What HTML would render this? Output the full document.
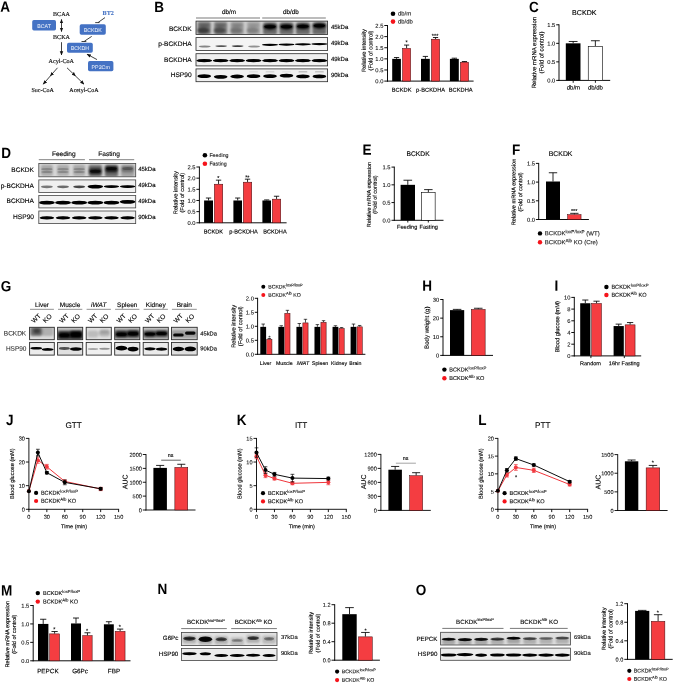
<!DOCTYPE html>
<html lang="en"><head><meta charset="utf-8"><title>Figure</title>
<style>
html,body{margin:0;padding:0;background:#fff;}
body{width:674px;height:685px;overflow:hidden;}
svg{display:block;font-family:"Liberation Sans",Arial,Helvetica,sans-serif;text-rendering:geometricPrecision;}
</style></head><body>
<svg xmlns="http://www.w3.org/2000/svg" width="674" height="685" viewBox="0 0 674 685">
<defs>
<filter id="b1" x="-30%" y="-60%" width="160%" height="220%"><feGaussianBlur stdDeviation="0.7"/></filter>
<filter id="b2" x="-30%" y="-60%" width="160%" height="220%"><feGaussianBlur stdDeviation="1.3"/></filter>
<filter id="b3" x="-40%" y="-80%" width="180%" height="260%"><feGaussianBlur stdDeviation="2.2"/></filter>
<filter id="b0" x="-30%" y="-60%" width="160%" height="220%"><feGaussianBlur stdDeviation="0.45"/></filter>
<filter id="soft" x="-5%" y="-5%" width="110%" height="110%"><feGaussianBlur stdDeviation="0.3"/></filter>
<marker id="ah" viewBox="0 0 10 10" refX="9" refY="5" markerUnits="userSpaceOnUse" markerWidth="4.3" markerHeight="4.4" orient="auto-start-reverse"><path d="M0,1 L10,5 L0,9 z" fill="#111"/></marker>
</defs>
<rect x="0" y="0" width="674" height="685" fill="#fff"/>
<g id="panelA">
<text x="0" y="0" font-size="14.8" font-weight="bold" fill="#000" transform="translate(0.15 11.7) rotate(0.05) scale(0.915 1)">A</text>
<g>
<text x="61.5" y="14.5" font-size="6.1" fill="#000" stroke="#000" stroke-width="0.13" text-anchor="middle" font-family="&quot;Liberation Serif&quot;,&quot;Times New Roman&quot;,serif" dominant-baseline="central">BCAA</text>
<text x="61.5" y="37.9" font-size="6.1" fill="#000" stroke="#000" stroke-width="0.13" text-anchor="middle" font-family="&quot;Liberation Serif&quot;,&quot;Times New Roman&quot;,serif" dominant-baseline="central">BCKA</text>
<text x="61.3" y="62" font-size="6.1" fill="#000" stroke="#000" stroke-width="0.13" text-anchor="middle" font-family="&quot;Liberation Serif&quot;,&quot;Times New Roman&quot;,serif" dominant-baseline="central">Acyl-CoA</text>
<text x="42.7" y="91" font-size="6" fill="#000" stroke="#000" stroke-width="0.13" text-anchor="middle" font-family="&quot;Liberation Serif&quot;,&quot;Times New Roman&quot;,serif" dominant-baseline="central">Suc-CoA</text>
<text x="84" y="91" font-size="6" fill="#000" stroke="#000" stroke-width="0.13" text-anchor="middle" font-family="&quot;Liberation Serif&quot;,&quot;Times New Roman&quot;,serif" dominant-baseline="central">Acetyl-CoA</text>
</g>
<text x="108.2" y="14.3" font-size="6.1" fill="#4472C4" stroke="#4472C4" stroke-width="0.13" text-anchor="middle" font-weight="bold" font-family="&quot;Liberation Serif&quot;,&quot;Times New Roman&quot;,serif" dominant-baseline="central">BT2</text>
<rect x="32.2" y="20" width="23.8" height="10.4" fill="#4472C4" rx="1.7"/>
<text x="44.1" y="26.7" font-size="5.3" fill="#e4ebf8" stroke="#e4ebf8" stroke-width="0.05" text-anchor="middle" dominant-baseline="central">BCAT</text>
<rect x="79.7" y="24.2" width="26.1" height="10.6" fill="#4472C4" rx="1.7"/>
<text x="92.75" y="31" font-size="5.3" fill="#e4ebf8" stroke="#e4ebf8" stroke-width="0.05" text-anchor="middle" dominant-baseline="central">BCKDK</text>
<rect x="67" y="42.8" width="25.8" height="10" fill="#4472C4" rx="1.7"/>
<text x="79.9" y="49.3" font-size="5.3" fill="#e4ebf8" stroke="#e4ebf8" stroke-width="0.05" text-anchor="middle" dominant-baseline="central">BCKDH</text>
<rect x="88" y="61" width="25.4" height="10.3" fill="#4472C4" rx="1.7"/>
<text x="100.7" y="67.65" font-size="5.3" fill="#e4ebf8" stroke="#e4ebf8" stroke-width="0.05" text-anchor="middle" dominant-baseline="central">PP2Cm</text>
<g stroke="#111" stroke-width="0.8" fill="none">
<line x1="61.5" y1="19.4" x2="61.5" y2="31.6" marker-start="url(#ah)" marker-end="url(#ah)"/>
<line x1="61.5" y1="42.2" x2="61.5" y2="55" marker-end="url(#ah)"/>
<line x1="57.5" y1="67.8" x2="50.3" y2="76" marker-end="url(#ah)"/>
<line x1="50.3" y1="76" x2="43.2" y2="84.2" marker-end="url(#ah)"/>
<line x1="67" y1="67.8" x2="75.5" y2="76" marker-end="url(#ah)"/>
<line x1="75.5" y1="76" x2="84" y2="84.2" marker-end="url(#ah)"/>
<line x1="97" y1="59.6" x2="87" y2="54.2" marker-end="url(#ah)"/>
<path d="M105.0,17.6 L98.2,22.4 M95.2,22.6 L99.6,22.6"/>
<path d="M91.7,36.4 L84.4,41.2 M81.5,41.5 L86.3,41.5"/>
</g>
</g>
<g id="panelB">
<text x="0" y="0" font-size="14.8" font-weight="bold" fill="#000" transform="translate(154.25 11.9) rotate(0.05) scale(0.915 1)">B</text>
<line x1="196" y1="17.9" x2="260" y2="17.9" stroke="#bcbcbc" stroke-width="2"/>
<line x1="262.2" y1="17.9" x2="325.8" y2="17.9" stroke="#bcbcbc" stroke-width="2"/>
<text x="229" y="12" font-size="6.3" fill="#000" stroke="#000" stroke-width="0.13" text-anchor="middle" dominant-baseline="central">db/m</text>
<text x="291" y="12" font-size="6.3" fill="#000" stroke="#000" stroke-width="0.13" text-anchor="middle" dominant-baseline="central">db/db</text>
<text x="191.6" y="29.35" font-size="6.6" fill="#000" stroke="#000" stroke-width="0.13" text-anchor="end" dominant-baseline="central">BCKDK</text>
<text x="330.9" y="27.95" font-size="6" fill="#000" stroke="#000" stroke-width="0.13" dominant-baseline="central">45kDa</text>
<rect x="196" y="21.1" width="131.6" height="13.3" fill="#cfcfcf"/>
<clipPath id="cB0"><rect x="196" y="21.1" width="131.6" height="13.3"/></clipPath>
<g clip-path="url(#cB0)">
<rect x="197.62" y="21.75" width="13.2" height="13" rx="2" fill="#000" opacity="0.42" filter="url(#b2)"/>
<ellipse cx="203.22" cy="30.35" rx="6" ry="3" fill="#000" opacity="0.5" filter="url(#b2)"/>
<ellipse cx="204.22" cy="25.25" rx="5" ry="1.5" fill="#000" opacity="0.25" filter="url(#b2)"/>
<rect x="214.08" y="21.75" width="13.2" height="13" rx="2" fill="#000" opacity="0.38" filter="url(#b2)"/>
<ellipse cx="219.68" cy="30.35" rx="6" ry="3" fill="#000" opacity="0.42" filter="url(#b2)"/>
<ellipse cx="220.68" cy="25.25" rx="5" ry="1.5" fill="#000" opacity="0.28" filter="url(#b2)"/>
<rect x="230.53" y="21.75" width="13.2" height="13" rx="2" fill="#000" opacity="0.26" filter="url(#b2)"/>
<ellipse cx="236.12" cy="30.35" rx="6" ry="3" fill="#000" opacity="0.25" filter="url(#b2)"/>
<ellipse cx="237.12" cy="25.25" rx="5" ry="1.5" fill="#000" opacity="0.18" filter="url(#b2)"/>
<rect x="246.98" y="21.75" width="13.2" height="13" rx="2" fill="#000" opacity="0.2" filter="url(#b2)"/>
<ellipse cx="252.58" cy="30.35" rx="6" ry="3" fill="#000" opacity="0.22" filter="url(#b2)"/>
<ellipse cx="253.58" cy="25.25" rx="5" ry="1.5" fill="#000" opacity="0.12" filter="url(#b2)"/>
<rect x="263.02" y="22.55" width="14" height="12" rx="2" fill="#000" opacity="0.5" filter="url(#b2)"/>
<ellipse cx="270.02" cy="26.85" rx="6.6" ry="2.8" fill="#000" opacity="0.9" filter="url(#b2)"/>
<ellipse cx="270.02" cy="26.75" rx="5.75" ry="1.6" fill="#000" opacity="0.9" filter="url(#b1)"/>
<rect x="279.48" y="22.55" width="14" height="12" rx="2" fill="#000" opacity="0.5" filter="url(#b2)"/>
<ellipse cx="286.48" cy="26.85" rx="6.6" ry="2.8" fill="#000" opacity="0.9" filter="url(#b2)"/>
<ellipse cx="286.48" cy="26.75" rx="5.75" ry="1.6" fill="#000" opacity="0.9" filter="url(#b1)"/>
<rect x="295.93" y="22.55" width="14" height="12" rx="2" fill="#000" opacity="0.5" filter="url(#b2)"/>
<ellipse cx="302.93" cy="26.55" rx="6.6" ry="2.8" fill="#000" opacity="0.9" filter="url(#b2)"/>
<ellipse cx="302.93" cy="26.45" rx="5.75" ry="1.6" fill="#000" opacity="0.9" filter="url(#b1)"/>
<rect x="312.38" y="22.55" width="14" height="12" rx="2" fill="#000" opacity="0.5" filter="url(#b2)"/>
<ellipse cx="319.38" cy="25.85" rx="6.6" ry="2.8" fill="#000" opacity="0.9" filter="url(#b2)"/>
<ellipse cx="319.38" cy="25.75" rx="5.75" ry="1.6" fill="#000" opacity="0.9" filter="url(#b1)"/>
</g>
<rect x="196" y="21.1" width="131.6" height="13.3" fill="none" stroke="#2a2a2a" stroke-width="0.8"/>
<text x="191.6" y="44.2" font-size="6.6" fill="#000" stroke="#000" stroke-width="0.13" text-anchor="end" dominant-baseline="central">p-BCKDHA</text>
<text x="330.9" y="44.2" font-size="6" fill="#000" stroke="#000" stroke-width="0.13" dominant-baseline="central">49kDa</text>
<rect x="196" y="37.6" width="131.6" height="12.8" fill="#f4f4f4"/>
<clipPath id="cB1"><rect x="196" y="37.6" width="131.6" height="12.8"/></clipPath>
<g clip-path="url(#cB1)">
<ellipse cx="204.72" cy="46.5" rx="6" ry="0.95" fill="#000" opacity="0.45" filter="url(#b1)"/>
<ellipse cx="221.18" cy="46.1" rx="6" ry="0.95" fill="#000" opacity="0.65" filter="url(#b1)"/>
<ellipse cx="237.62" cy="46.1" rx="6" ry="0.95" fill="#000" opacity="0.75" filter="url(#b1)"/>
<ellipse cx="254.08" cy="46.5" rx="6" ry="0.95" fill="#000" opacity="0.4" filter="url(#b1)"/>
<ellipse cx="270.02" cy="44.8" rx="8" ry="1.15" fill="#000" opacity="1" filter="url(#b1)"/>
<ellipse cx="270.02" cy="44.8" rx="6" ry="0.6" fill="#000" opacity="0.5" filter="url(#b0)"/>
<ellipse cx="286.48" cy="44.55" rx="8" ry="1.15" fill="#000" opacity="1" filter="url(#b1)"/>
<ellipse cx="286.48" cy="44.55" rx="6" ry="0.6" fill="#000" opacity="0.5" filter="url(#b0)"/>
<ellipse cx="302.93" cy="44.3" rx="8" ry="1.15" fill="#000" opacity="1" filter="url(#b1)"/>
<ellipse cx="302.93" cy="44.3" rx="6" ry="0.6" fill="#000" opacity="0.5" filter="url(#b0)"/>
<ellipse cx="319.38" cy="44.05" rx="8" ry="1.15" fill="#000" opacity="1" filter="url(#b1)"/>
<ellipse cx="319.38" cy="44.05" rx="6" ry="0.6" fill="#000" opacity="0.5" filter="url(#b0)"/>
</g>
<rect x="196" y="37.6" width="131.6" height="12.8" fill="none" stroke="#2a2a2a" stroke-width="0.8"/>
<text x="191.6" y="60" font-size="6.6" fill="#000" stroke="#000" stroke-width="0.13" text-anchor="end" dominant-baseline="central">BCKDHA</text>
<text x="330.9" y="60" font-size="6" fill="#000" stroke="#000" stroke-width="0.13" dominant-baseline="central">49kDa</text>
<rect x="196" y="53.7" width="131.6" height="12.2" fill="#efefef"/>
<clipPath id="cB2"><rect x="196" y="53.7" width="131.6" height="12.2"/></clipPath>
<g clip-path="url(#cB2)">
<ellipse cx="204.22" cy="60.6" rx="7.9" ry="1.65" fill="#000" opacity="1" filter="url(#b1)"/>
<rect x="197.97" y="59.6" width="12.5" height="2" rx="1" fill="#000" opacity="1" filter="url(#b0)"/>
<ellipse cx="220.68" cy="60.6" rx="7.9" ry="1.65" fill="#000" opacity="1" filter="url(#b1)"/>
<rect x="214.43" y="59.6" width="12.5" height="2" rx="1" fill="#000" opacity="1" filter="url(#b0)"/>
<ellipse cx="237.12" cy="60.6" rx="7.9" ry="1.65" fill="#000" opacity="1" filter="url(#b1)"/>
<rect x="230.88" y="59.6" width="12.5" height="2" rx="1" fill="#000" opacity="1" filter="url(#b0)"/>
<ellipse cx="253.58" cy="60.6" rx="7.9" ry="1.65" fill="#000" opacity="1" filter="url(#b1)"/>
<rect x="247.33" y="59.6" width="12.5" height="2" rx="1" fill="#000" opacity="1" filter="url(#b0)"/>
<ellipse cx="270.02" cy="60.6" rx="7.9" ry="1.65" fill="#000" opacity="1" filter="url(#b1)"/>
<rect x="263.77" y="59.6" width="12.5" height="2" rx="1" fill="#000" opacity="1" filter="url(#b0)"/>
<ellipse cx="286.48" cy="60.6" rx="7.9" ry="1.65" fill="#000" opacity="1" filter="url(#b1)"/>
<rect x="280.23" y="59.6" width="12.5" height="2" rx="1" fill="#000" opacity="1" filter="url(#b0)"/>
<ellipse cx="302.93" cy="60.6" rx="7.9" ry="1.65" fill="#000" opacity="1" filter="url(#b1)"/>
<rect x="296.68" y="59.6" width="12.5" height="2" rx="1" fill="#000" opacity="1" filter="url(#b0)"/>
<ellipse cx="319.38" cy="60.6" rx="7.9" ry="1.65" fill="#000" opacity="1" filter="url(#b1)"/>
<rect x="313.12" y="59.6" width="12.5" height="2" rx="1" fill="#000" opacity="1" filter="url(#b0)"/>
</g>
<rect x="196" y="53.7" width="131.6" height="12.2" fill="none" stroke="#2a2a2a" stroke-width="0.8"/>
<text x="191.6" y="75.5" font-size="6.6" fill="#000" stroke="#000" stroke-width="0.13" text-anchor="end" dominant-baseline="central">HSP90</text>
<text x="330.9" y="75.5" font-size="6" fill="#000" stroke="#000" stroke-width="0.13" dominant-baseline="central">90kDa</text>
<rect x="196" y="68.9" width="131.6" height="12.8" fill="#f0f0f0"/>
<clipPath id="cB3"><rect x="196" y="68.9" width="131.6" height="12.8"/></clipPath>
<g clip-path="url(#cB3)">
<ellipse cx="204.22" cy="76.2" rx="6.8" ry="1.9" fill="#000" opacity="1" filter="url(#b1)"/>
<rect x="198.97" y="75.05" width="10.5" height="2.3" rx="1.15" fill="#000" opacity="1" filter="url(#b0)"/>
<ellipse cx="220.68" cy="76.8" rx="6.8" ry="1.9" fill="#000" opacity="1" filter="url(#b1)"/>
<rect x="215.43" y="75.65" width="10.5" height="2.3" rx="1.15" fill="#000" opacity="1" filter="url(#b0)"/>
<ellipse cx="237.12" cy="76.5" rx="6.8" ry="1.9" fill="#000" opacity="1" filter="url(#b1)"/>
<rect x="231.88" y="75.35" width="10.5" height="2.3" rx="1.15" fill="#000" opacity="1" filter="url(#b0)"/>
<ellipse cx="253.58" cy="76.2" rx="6.8" ry="1.9" fill="#000" opacity="1" filter="url(#b1)"/>
<rect x="248.33" y="75.05" width="10.5" height="2.3" rx="1.15" fill="#000" opacity="1" filter="url(#b0)"/>
<rect x="249.08" y="71.45" width="9" height="0.9" rx="0.45" fill="#000" opacity="0.12" filter="url(#b1)"/>
<ellipse cx="270.02" cy="76.2" rx="6.8" ry="1.9" fill="#000" opacity="1" filter="url(#b1)"/>
<rect x="264.77" y="75.05" width="10.5" height="2.3" rx="1.15" fill="#000" opacity="1" filter="url(#b0)"/>
<rect x="265.52" y="71.45" width="9" height="0.9" rx="0.45" fill="#000" opacity="0.2" filter="url(#b1)"/>
<ellipse cx="286.48" cy="75.7" rx="6.8" ry="1.9" fill="#000" opacity="1" filter="url(#b1)"/>
<rect x="281.23" y="74.55" width="10.5" height="2.3" rx="1.15" fill="#000" opacity="1" filter="url(#b0)"/>
<rect x="281.98" y="71.45" width="9" height="0.9" rx="0.45" fill="#000" opacity="0.1" filter="url(#b1)"/>
<ellipse cx="302.93" cy="76.4" rx="6.8" ry="1.9" fill="#000" opacity="1" filter="url(#b1)"/>
<rect x="297.68" y="75.25" width="10.5" height="2.3" rx="1.15" fill="#000" opacity="1" filter="url(#b0)"/>
<rect x="298.43" y="71.45" width="9" height="0.9" rx="0.45" fill="#000" opacity="0.4" filter="url(#b1)"/>
<ellipse cx="319.38" cy="76.4" rx="6.8" ry="1.9" fill="#000" opacity="1" filter="url(#b1)"/>
<rect x="314.12" y="75.25" width="10.5" height="2.3" rx="1.15" fill="#000" opacity="1" filter="url(#b0)"/>
<rect x="314.88" y="71.45" width="9" height="0.9" rx="0.45" fill="#000" opacity="0.35" filter="url(#b1)"/>
</g>
<rect x="196" y="68.9" width="131.6" height="12.8" fill="none" stroke="#2a2a2a" stroke-width="0.8"/>
<line x1="387.5" y1="25.02" x2="387.5" y2="81.57" stroke="#000" stroke-width="0.95"/>
<line x1="387.02" y1="81.1" x2="473.6" y2="81.1" stroke="#000" stroke-width="0.95"/>
<line x1="384.3" y1="81.1" x2="387.5" y2="81.1" stroke="#000" stroke-width="0.95"/>
<text x="383.4" y="81.25" font-size="5.8" fill="#000" stroke="#000" stroke-width="0.06" text-anchor="end" dy="2.08" transform="rotate(0.05 383.4 81.25)">0.0</text>
<line x1="384.3" y1="69.98" x2="387.5" y2="69.98" stroke="#000" stroke-width="0.95"/>
<text x="383.4" y="70.13" font-size="5.8" fill="#000" stroke="#000" stroke-width="0.06" text-anchor="end" dy="2.08" transform="rotate(0.05 383.4 70.13)">0.5</text>
<line x1="384.3" y1="58.86" x2="387.5" y2="58.86" stroke="#000" stroke-width="0.95"/>
<text x="383.4" y="59.01" font-size="5.8" fill="#000" stroke="#000" stroke-width="0.06" text-anchor="end" dy="2.08" transform="rotate(0.05 383.4 59.01)">1.0</text>
<line x1="384.3" y1="47.74" x2="387.5" y2="47.74" stroke="#000" stroke-width="0.95"/>
<text x="383.4" y="47.89" font-size="5.8" fill="#000" stroke="#000" stroke-width="0.06" text-anchor="end" dy="2.08" transform="rotate(0.05 383.4 47.89)">1.5</text>
<line x1="384.3" y1="36.62" x2="387.5" y2="36.62" stroke="#000" stroke-width="0.95"/>
<text x="383.4" y="36.77" font-size="5.8" fill="#000" stroke="#000" stroke-width="0.06" text-anchor="end" dy="2.08" transform="rotate(0.05 383.4 36.77)">2.0</text>
<line x1="384.3" y1="25.5" x2="387.5" y2="25.5" stroke="#000" stroke-width="0.95"/>
<text x="383.4" y="25.65" font-size="5.8" fill="#000" stroke="#000" stroke-width="0.06" text-anchor="end" dy="2.08" transform="rotate(0.05 383.4 25.65)">2.5</text>
<line x1="396.55" y1="57.53" x2="396.55" y2="58.86" stroke="#000" stroke-width="0.85"/>
<line x1="393.94" y1="57.53" x2="399.16" y2="57.53" stroke="#000" stroke-width="0.85"/>
<rect x="392.2" y="58.86" width="8.7" height="22.24" fill="#000"/>
<line x1="406.6" y1="45.07" x2="406.6" y2="48.18" stroke="#000" stroke-width="0.85"/>
<line x1="404.02" y1="45.07" x2="409.18" y2="45.07" stroke="#000" stroke-width="0.85"/>
<rect x="402.55" y="48.43" width="8.1" height="32.67" fill="#F43D41" stroke="#3a0508" stroke-width="0.5"/>
<line x1="425.4" y1="56.41" x2="425.4" y2="58.86" stroke="#000" stroke-width="0.85"/>
<line x1="422.76" y1="56.41" x2="428.04" y2="56.41" stroke="#000" stroke-width="0.85"/>
<rect x="421" y="58.86" width="8.8" height="22.24" fill="#000"/>
<line x1="435.55" y1="37.51" x2="435.55" y2="38.96" stroke="#000" stroke-width="0.85"/>
<line x1="432.94" y1="37.51" x2="438.16" y2="37.51" stroke="#000" stroke-width="0.85"/>
<rect x="431.45" y="39.21" width="8.2" height="41.89" fill="#F43D41" stroke="#3a0508" stroke-width="0.5"/>
<line x1="454.35" y1="58.19" x2="454.35" y2="58.86" stroke="#000" stroke-width="0.85"/>
<line x1="451.68" y1="58.19" x2="457.02" y2="58.19" stroke="#000" stroke-width="0.85"/>
<rect x="449.9" y="58.86" width="8.9" height="22.24" fill="#000"/>
<line x1="464.45" y1="61.53" x2="464.45" y2="61.97" stroke="#000" stroke-width="0.85"/>
<line x1="461.84" y1="61.53" x2="467.06" y2="61.53" stroke="#000" stroke-width="0.85"/>
<rect x="460.35" y="62.22" width="8.2" height="18.88" fill="#F43D41" stroke="#3a0508" stroke-width="0.5"/>
<text x="406.5" y="42.16" font-size="5.5" fill="#000" stroke="#000" stroke-width="0.1" text-anchor="middle" dy="1.97" transform="rotate(0.05 406.5 42.16)">*</text>
<text x="435.1" y="35.45" font-size="5.5" fill="#000" stroke="#000" stroke-width="0.1" text-anchor="middle" dy="1.97" transform="rotate(0.05 435.1 35.45)">***</text>
<circle cx="393" cy="13.7" r="2.3" fill="#000"/>
<text x="398" y="13.5" font-size="5.9" fill="#111" stroke="#111" stroke-width="0.1" dy="2.11" transform="rotate(0.05 398 13.5)">db/m</text>
<circle cx="393" cy="21.6" r="2.3" fill="#F5141B"/>
<text x="398" y="21.4" font-size="5.9" fill="#111" stroke="#111" stroke-width="0.1" dy="2.11" transform="rotate(0.05 398 21.4)">db/db</text>
<text x="363.7" y="50.6" font-size="5.7" fill="#000" stroke="#000" stroke-width="0.13" text-anchor="middle" dy="2.04" transform="rotate(-89.95 363.7 50.6)">Relative intensity</text>
<text x="370.4" y="50.6" font-size="5.7" fill="#000" stroke="#000" stroke-width="0.13" text-anchor="middle" dy="2.04" transform="rotate(-89.95 370.4 50.6)">(Fold of control)</text>
<text x="401.7" y="89.75" font-size="5.75" fill="#000" stroke="#000" stroke-width="0.13" text-anchor="middle" dy="2.06" transform="rotate(0.05 401.7 89.75)">BCKDK</text>
<text x="430.6" y="89.75" font-size="5.75" fill="#000" stroke="#000" stroke-width="0.13" text-anchor="middle" dy="2.06" transform="rotate(0.05 430.6 89.75)">p-BCKDHA</text>
<text x="460.7" y="89.75" font-size="5.75" fill="#000" stroke="#000" stroke-width="0.13" text-anchor="middle" dy="2.06" transform="rotate(0.05 460.7 89.75)">BCKDHA</text>
</g>
<g id="panelC">
<text x="0" y="0" font-size="14.8" font-weight="bold" fill="#000" transform="translate(528.95 12) rotate(0.05) scale(0.915 1)">C</text>
<text x="584.3" y="12.6" font-size="7.1" fill="#000" stroke="#000" stroke-width="0.13" text-anchor="middle" dominant-baseline="central">BCKDK</text>
<line x1="559" y1="24.32" x2="559" y2="80.88" stroke="#000" stroke-width="0.95"/>
<line x1="558.52" y1="80.4" x2="610.2" y2="80.4" stroke="#000" stroke-width="0.95"/>
<line x1="556.2" y1="80.4" x2="559" y2="80.4" stroke="#000" stroke-width="0.95"/>
<text x="555.3" y="80.55" font-size="5.8" fill="#000" stroke="#000" stroke-width="0.06" text-anchor="end" dy="2.08" transform="rotate(0.05 555.3 80.55)">0.0</text>
<line x1="556.2" y1="61.87" x2="559" y2="61.87" stroke="#000" stroke-width="0.95"/>
<text x="555.3" y="62.02" font-size="5.8" fill="#000" stroke="#000" stroke-width="0.06" text-anchor="end" dy="2.08" transform="rotate(0.05 555.3 62.02)">0.5</text>
<line x1="556.2" y1="43.33" x2="559" y2="43.33" stroke="#000" stroke-width="0.95"/>
<text x="555.3" y="43.48" font-size="5.8" fill="#000" stroke="#000" stroke-width="0.06" text-anchor="end" dy="2.08" transform="rotate(0.05 555.3 43.48)">1.0</text>
<line x1="556.2" y1="24.8" x2="559" y2="24.8" stroke="#000" stroke-width="0.95"/>
<text x="555.3" y="24.95" font-size="5.8" fill="#000" stroke="#000" stroke-width="0.06" text-anchor="end" dy="2.08" transform="rotate(0.05 555.3 24.95)">1.5</text>
<line x1="573.15" y1="41.48" x2="573.15" y2="43.33" stroke="#000" stroke-width="0.85"/>
<line x1="568.74" y1="41.48" x2="577.56" y2="41.48" stroke="#000" stroke-width="0.85"/>
<rect x="565.8" y="43.33" width="14.7" height="37.07" fill="#000"/>
<line x1="595.35" y1="40.74" x2="595.35" y2="46.11" stroke="#000" stroke-width="0.85"/>
<line x1="590.94" y1="40.74" x2="599.76" y2="40.74" stroke="#000" stroke-width="0.85"/>
<rect x="588.25" y="46.36" width="14.2" height="34.04" fill="#fff" stroke="#000" stroke-width="0.6"/>
<line x1="573.2" y1="80.4" x2="573.2" y2="82.8" stroke="#000" stroke-width="0.9"/>
<line x1="595.4" y1="80.4" x2="595.4" y2="82.8" stroke="#000" stroke-width="0.9"/>
<text x="573.4" y="87.4" font-size="6" fill="#000" stroke="#000" stroke-width="0.13" text-anchor="middle" dy="2.15" transform="rotate(0.05 573.4 87.4)">db/m</text>
<text x="595.4" y="87.4" font-size="6" fill="#000" stroke="#000" stroke-width="0.13" text-anchor="middle" dy="2.15" transform="rotate(0.05 595.4 87.4)">db/db</text>
<text x="534" y="52.6" font-size="6" fill="#000" stroke="#000" stroke-width="0.13" text-anchor="middle" dy="2.15" transform="rotate(-89.95 534 52.6)">Relative mRNA expression</text>
<text x="541.3" y="52.6" font-size="6" fill="#000" stroke="#000" stroke-width="0.13" text-anchor="middle" dy="2.15" transform="rotate(-89.95 541.3 52.6)">(Fold of control)</text>
</g>
<g id="panelD">
<text x="0" y="0" font-size="14.8" font-weight="bold" fill="#000" transform="translate(1.25 158) rotate(0.05) scale(0.915 1)">D</text>
<line x1="38.8" y1="159.65" x2="84.9" y2="159.65" stroke="#999" stroke-width="1.1"/>
<line x1="89" y1="159.65" x2="134.2" y2="159.65" stroke="#999" stroke-width="1.1"/>
<text x="63.8" y="154.5" font-size="6.6" fill="#000" stroke="#000" stroke-width="0.13" text-anchor="middle" dominant-baseline="central">Feeding</text>
<text x="109" y="154.5" font-size="6.6" fill="#000" stroke="#000" stroke-width="0.13" text-anchor="middle" dominant-baseline="central">Fasting</text>
<text x="34" y="170.35" font-size="6.6" fill="#000" stroke="#000" stroke-width="0.13" text-anchor="end" dominant-baseline="central">BCKDK</text>
<text x="138.2" y="170.35" font-size="6" fill="#000" stroke="#000" stroke-width="0.13" dominant-baseline="central">45kDa</text>
<rect x="38.8" y="163.5" width="96.9" height="13.3" fill="#d8d8d8"/>
<clipPath id="cD0"><rect x="38.8" y="163.5" width="96.9" height="13.3"/></clipPath>
<g clip-path="url(#cD0)">
<rect x="40.88" y="164.65" width="12" height="11" rx="2" fill="#000" opacity="0.22" filter="url(#b2)"/>
<ellipse cx="46.88" cy="169.15" rx="5.75" ry="1.1" fill="#000" opacity="0.2" filter="url(#b1)"/>
<ellipse cx="46.88" cy="171.95" rx="5.75" ry="1.1" fill="#000" opacity="0.2" filter="url(#b1)"/>
<rect x="57.02" y="164.65" width="12" height="11" rx="2" fill="#000" opacity="0.2" filter="url(#b2)"/>
<ellipse cx="63.02" cy="169.15" rx="5.75" ry="1.1" fill="#000" opacity="0.2" filter="url(#b1)"/>
<ellipse cx="63.02" cy="171.95" rx="5.75" ry="1.1" fill="#000" opacity="0.2" filter="url(#b1)"/>
<rect x="73.17" y="164.65" width="12" height="11" rx="2" fill="#000" opacity="0.22" filter="url(#b2)"/>
<ellipse cx="79.17" cy="169.15" rx="5.75" ry="1.1" fill="#000" opacity="0.2" filter="url(#b1)"/>
<ellipse cx="79.17" cy="171.95" rx="5.75" ry="1.1" fill="#000" opacity="0.2" filter="url(#b1)"/>
<rect x="88.57" y="164.65" width="13.5" height="12" rx="2" fill="#000" opacity="0.48" filter="url(#b2)"/>
<rect x="89.07" y="168.15" width="12.5" height="6" rx="3" fill="#000" opacity="0.72" filter="url(#b2)"/>
<ellipse cx="95.32" cy="171.15" rx="5.25" ry="1.5" fill="#000" opacity="0.59" filter="url(#b1)"/>
<rect x="104.72" y="164.65" width="13.5" height="12" rx="2" fill="#000" opacity="0.51" filter="url(#b2)"/>
<rect x="105.22" y="166.15" width="12.5" height="6" rx="3" fill="#000" opacity="0.77" filter="url(#b2)"/>
<ellipse cx="111.47" cy="168.55" rx="5.25" ry="1.5" fill="#000" opacity="0.63" filter="url(#b1)"/>
<rect x="120.87" y="164.65" width="13.5" height="12" rx="2" fill="#000" opacity="0.26" filter="url(#b2)"/>
<rect x="121.37" y="166.15" width="12.5" height="6" rx="3" fill="#000" opacity="0.3" filter="url(#b2)"/>
<ellipse cx="127.62" cy="168.55" rx="5.25" ry="1.5" fill="#000" opacity="0.24" filter="url(#b1)"/>
</g>
<rect x="38.8" y="163.5" width="96.9" height="13.3" fill="none" stroke="#444" stroke-width="0.8"/>
<text x="34" y="186.4" font-size="6.6" fill="#000" stroke="#000" stroke-width="0.13" text-anchor="end" dominant-baseline="central">p-BCKDHA</text>
<text x="138.2" y="186.4" font-size="6" fill="#000" stroke="#000" stroke-width="0.13" dominant-baseline="central">49kDa</text>
<rect x="38.8" y="179.9" width="96.9" height="12.6" fill="#f0f0f0"/>
<clipPath id="cD1"><rect x="38.8" y="179.9" width="96.9" height="12.6"/></clipPath>
<g clip-path="url(#cD1)">
<ellipse cx="46.88" cy="186.8" rx="6" ry="1.4" fill="#000" opacity="0.5" filter="url(#b1)"/>
<ellipse cx="63.02" cy="186.8" rx="6" ry="1.4" fill="#000" opacity="0.55" filter="url(#b1)"/>
<ellipse cx="79.17" cy="186.8" rx="6" ry="1.4" fill="#000" opacity="0.7" filter="url(#b1)"/>
<ellipse cx="95.32" cy="186.6" rx="7.75" ry="1.9" fill="#000" opacity="1" filter="url(#b1)"/>
<ellipse cx="95.32" cy="186.6" rx="6.25" ry="1.14" fill="#000" opacity="0.9" filter="url(#b0)"/>
<ellipse cx="111.47" cy="186.6" rx="7.75" ry="1.4" fill="#000" opacity="1" filter="url(#b1)"/>
<ellipse cx="111.47" cy="186.6" rx="6.25" ry="0.84" fill="#000" opacity="0.9" filter="url(#b0)"/>
<ellipse cx="127.62" cy="186.6" rx="7.75" ry="1.4" fill="#000" opacity="1" filter="url(#b1)"/>
<ellipse cx="127.62" cy="186.6" rx="6.25" ry="0.84" fill="#000" opacity="0.9" filter="url(#b0)"/>
</g>
<rect x="38.8" y="179.9" width="96.9" height="12.6" fill="none" stroke="#444" stroke-width="0.8"/>
<text x="34" y="201.85" font-size="6.6" fill="#000" stroke="#000" stroke-width="0.13" text-anchor="end" dominant-baseline="central">BCKDHA</text>
<text x="138.2" y="201.85" font-size="6" fill="#000" stroke="#000" stroke-width="0.13" dominant-baseline="central">49kDa</text>
<rect x="38.8" y="195.4" width="96.9" height="12.5" fill="#f2f2f2"/>
<clipPath id="cD2"><rect x="38.8" y="195.4" width="96.9" height="12.5"/></clipPath>
<g clip-path="url(#cD2)">
<ellipse cx="46.88" cy="202.65" rx="7.9" ry="1.9" fill="#000" opacity="1" filter="url(#b1)"/>
<rect x="40.62" y="201.4" width="12.5" height="2.5" rx="1.25" fill="#000" opacity="1" filter="url(#b0)"/>
<ellipse cx="63.02" cy="202.65" rx="7.9" ry="1.9" fill="#000" opacity="1" filter="url(#b1)"/>
<rect x="56.77" y="201.4" width="12.5" height="2.5" rx="1.25" fill="#000" opacity="1" filter="url(#b0)"/>
<ellipse cx="79.17" cy="202.65" rx="7.9" ry="1.9" fill="#000" opacity="1" filter="url(#b1)"/>
<rect x="72.92" y="201.4" width="12.5" height="2.5" rx="1.25" fill="#000" opacity="1" filter="url(#b0)"/>
<ellipse cx="95.32" cy="202.65" rx="7.9" ry="1.9" fill="#000" opacity="1" filter="url(#b1)"/>
<rect x="89.07" y="201.4" width="12.5" height="2.5" rx="1.25" fill="#000" opacity="1" filter="url(#b0)"/>
<ellipse cx="111.47" cy="202.65" rx="7.9" ry="1.9" fill="#000" opacity="1" filter="url(#b1)"/>
<rect x="105.22" y="201.4" width="12.5" height="2.5" rx="1.25" fill="#000" opacity="1" filter="url(#b0)"/>
<ellipse cx="127.62" cy="201.85" rx="7.9" ry="1.9" fill="#000" opacity="1" filter="url(#b1)"/>
<rect x="121.37" y="200.6" width="12.5" height="2.5" rx="1.25" fill="#000" opacity="1" filter="url(#b0)"/>
</g>
<rect x="38.8" y="195.4" width="96.9" height="12.5" fill="none" stroke="#444" stroke-width="0.8"/>
<text x="34" y="217.5" font-size="6.6" fill="#000" stroke="#000" stroke-width="0.13" text-anchor="end" dominant-baseline="central">HSP90</text>
<text x="138.2" y="217.5" font-size="6" fill="#000" stroke="#000" stroke-width="0.13" dominant-baseline="central">90kDa</text>
<rect x="38.8" y="211" width="96.9" height="12.6" fill="#efefef"/>
<clipPath id="cD3"><rect x="38.8" y="211" width="96.9" height="12.6"/></clipPath>
<g clip-path="url(#cD3)">
<ellipse cx="46.88" cy="217.8" rx="7.25" ry="1.65" fill="#000" opacity="1" filter="url(#b1)"/>
<rect x="41.12" y="216.7" width="11.5" height="2.2" rx="1.1" fill="#000" opacity="1" filter="url(#b0)"/>
<ellipse cx="63.02" cy="217.8" rx="7.25" ry="1.65" fill="#000" opacity="1" filter="url(#b1)"/>
<rect x="57.27" y="216.7" width="11.5" height="2.2" rx="1.1" fill="#000" opacity="1" filter="url(#b0)"/>
<ellipse cx="79.17" cy="217.8" rx="7.25" ry="1.65" fill="#000" opacity="1" filter="url(#b1)"/>
<rect x="73.42" y="216.7" width="11.5" height="2.2" rx="1.1" fill="#000" opacity="1" filter="url(#b0)"/>
<ellipse cx="95.32" cy="217.8" rx="7.25" ry="1.65" fill="#000" opacity="1" filter="url(#b1)"/>
<rect x="89.57" y="216.7" width="11.5" height="2.2" rx="1.1" fill="#000" opacity="1" filter="url(#b0)"/>
<ellipse cx="111.47" cy="217.8" rx="7.25" ry="1.65" fill="#000" opacity="1" filter="url(#b1)"/>
<rect x="105.72" y="216.7" width="11.5" height="2.2" rx="1.1" fill="#000" opacity="1" filter="url(#b0)"/>
<ellipse cx="127.62" cy="217.8" rx="7.25" ry="1.65" fill="#000" opacity="1" filter="url(#b1)"/>
<rect x="121.87" y="216.7" width="11.5" height="2.2" rx="1.1" fill="#000" opacity="1" filter="url(#b0)"/>
</g>
<rect x="38.8" y="211" width="96.9" height="12.6" fill="none" stroke="#444" stroke-width="0.8"/>
<line x1="199.4" y1="166.53" x2="199.4" y2="223.28" stroke="#000" stroke-width="0.95"/>
<line x1="198.93" y1="222.8" x2="286.6" y2="222.8" stroke="#000" stroke-width="0.95"/>
<line x1="196.4" y1="222.8" x2="199.4" y2="222.8" stroke="#000" stroke-width="0.95"/>
<text x="195.5" y="222.95" font-size="5.8" fill="#000" stroke="#000" stroke-width="0.06" text-anchor="end" dy="2.08" transform="rotate(0.05 195.5 222.95)">0.0</text>
<line x1="196.4" y1="211.64" x2="199.4" y2="211.64" stroke="#000" stroke-width="0.95"/>
<text x="195.5" y="211.79" font-size="5.8" fill="#000" stroke="#000" stroke-width="0.06" text-anchor="end" dy="2.08" transform="rotate(0.05 195.5 211.79)">0.5</text>
<line x1="196.4" y1="200.48" x2="199.4" y2="200.48" stroke="#000" stroke-width="0.95"/>
<text x="195.5" y="200.63" font-size="5.8" fill="#000" stroke="#000" stroke-width="0.06" text-anchor="end" dy="2.08" transform="rotate(0.05 195.5 200.63)">1.0</text>
<line x1="196.4" y1="189.32" x2="199.4" y2="189.32" stroke="#000" stroke-width="0.95"/>
<text x="195.5" y="189.47" font-size="5.8" fill="#000" stroke="#000" stroke-width="0.06" text-anchor="end" dy="2.08" transform="rotate(0.05 195.5 189.47)">1.5</text>
<line x1="196.4" y1="178.16" x2="199.4" y2="178.16" stroke="#000" stroke-width="0.95"/>
<text x="195.5" y="178.31" font-size="5.8" fill="#000" stroke="#000" stroke-width="0.06" text-anchor="end" dy="2.08" transform="rotate(0.05 195.5 178.31)">2.0</text>
<line x1="196.4" y1="167" x2="199.4" y2="167" stroke="#000" stroke-width="0.95"/>
<text x="195.5" y="167.15" font-size="5.8" fill="#000" stroke="#000" stroke-width="0.06" text-anchor="end" dy="2.08" transform="rotate(0.05 195.5 167.15)">2.5</text>
<line x1="208.55" y1="198.02" x2="208.55" y2="200.48" stroke="#000" stroke-width="0.85"/>
<line x1="205.88" y1="198.02" x2="211.22" y2="198.02" stroke="#000" stroke-width="0.85"/>
<rect x="204.1" y="200.48" width="8.9" height="22.32" fill="#000"/>
<line x1="218.55" y1="180.17" x2="218.55" y2="183.96" stroke="#000" stroke-width="0.85"/>
<line x1="215.88" y1="180.17" x2="221.22" y2="180.17" stroke="#000" stroke-width="0.85"/>
<rect x="214.35" y="184.21" width="8.4" height="38.59" fill="#F43D41" stroke="#3a0508" stroke-width="0.5"/>
<line x1="237.7" y1="198.02" x2="237.7" y2="200.48" stroke="#000" stroke-width="0.85"/>
<line x1="235.12" y1="198.02" x2="240.28" y2="198.02" stroke="#000" stroke-width="0.85"/>
<rect x="233.4" y="200.48" width="8.6" height="22.32" fill="#000"/>
<line x1="247.55" y1="179.16" x2="247.55" y2="181.95" stroke="#000" stroke-width="0.85"/>
<line x1="244.88" y1="179.16" x2="250.22" y2="179.16" stroke="#000" stroke-width="0.85"/>
<rect x="243.35" y="182.2" width="8.4" height="40.6" fill="#F43D41" stroke="#3a0508" stroke-width="0.5"/>
<line x1="266.7" y1="199.92" x2="266.7" y2="200.48" stroke="#000" stroke-width="0.85"/>
<line x1="264.12" y1="199.92" x2="269.28" y2="199.92" stroke="#000" stroke-width="0.85"/>
<rect x="262.4" y="200.48" width="8.6" height="22.32" fill="#000"/>
<line x1="276.55" y1="196.24" x2="276.55" y2="198.92" stroke="#000" stroke-width="0.85"/>
<line x1="273.88" y1="196.24" x2="279.22" y2="196.24" stroke="#000" stroke-width="0.85"/>
<rect x="272.35" y="199.17" width="8.4" height="23.63" fill="#F43D41" stroke="#3a0508" stroke-width="0.5"/>
<text x="218.3" y="177.85" font-size="5.5" fill="#000" stroke="#000" stroke-width="0.1" text-anchor="middle" dy="1.97" transform="rotate(0.05 218.3 177.85)">*</text>
<text x="247.3" y="177.16" font-size="5.5" fill="#000" stroke="#000" stroke-width="0.1" text-anchor="middle" dy="1.97" transform="rotate(0.05 247.3 177.16)">**</text>
<circle cx="204.9" cy="155.2" r="2.3" fill="#000"/>
<text x="209.4" y="155" font-size="5.3" fill="#111" stroke="#111" stroke-width="0.1" dy="1.9" transform="rotate(0.05 209.4 155)">Feeding</text>
<circle cx="204.9" cy="163.7" r="2.3" fill="#F5141B"/>
<text x="209.4" y="163.5" font-size="5.3" fill="#111" stroke="#111" stroke-width="0.1" dy="1.9" transform="rotate(0.05 209.4 163.5)">Fasting</text>
<text x="175.4" y="192.7" font-size="5.7" fill="#000" stroke="#000" stroke-width="0.13" text-anchor="middle" dy="2.04" transform="rotate(-89.95 175.4 192.7)">Relative intensity</text>
<text x="181.9" y="192.7" font-size="5.7" fill="#000" stroke="#000" stroke-width="0.13" text-anchor="middle" dy="2.04" transform="rotate(-89.95 181.9 192.7)">(Fold of control)</text>
<text x="213.4" y="231.6" font-size="5.65" fill="#000" stroke="#000" stroke-width="0.13" text-anchor="middle" dy="2.02" transform="rotate(0.05 213.4 231.6)">BCKDK</text>
<text x="243.6" y="231.6" font-size="5.65" fill="#000" stroke="#000" stroke-width="0.13" text-anchor="middle" dy="2.02" transform="rotate(0.05 243.6 231.6)">p-BCKDHA</text>
<text x="274.9" y="231.6" font-size="5.65" fill="#000" stroke="#000" stroke-width="0.13" text-anchor="middle" dy="2.02" transform="rotate(0.05 274.9 231.6)">BCKDHA</text>
</g>
<g id="panelE">
<text x="0" y="0" font-size="14.8" font-weight="bold" fill="#000" transform="translate(362.55 154.75) rotate(0.05) scale(0.915 1)">E</text>
<text x="418.1" y="154.7" font-size="6.7" fill="#000" stroke="#000" stroke-width="0.13" text-anchor="middle" dominant-baseline="central">BCKDK</text>
<line x1="394.3" y1="166.62" x2="394.3" y2="220.78" stroke="#000" stroke-width="0.95"/>
<line x1="393.82" y1="220.3" x2="443.5" y2="220.3" stroke="#000" stroke-width="0.95"/>
<line x1="391.5" y1="220.3" x2="394.3" y2="220.3" stroke="#000" stroke-width="0.95"/>
<text x="390.6" y="220.45" font-size="5.8" fill="#000" stroke="#000" stroke-width="0.06" text-anchor="end" dy="2.08" transform="rotate(0.05 390.6 220.45)">0.0</text>
<line x1="391.5" y1="202.57" x2="394.3" y2="202.57" stroke="#000" stroke-width="0.95"/>
<text x="390.6" y="202.72" font-size="5.8" fill="#000" stroke="#000" stroke-width="0.06" text-anchor="end" dy="2.08" transform="rotate(0.05 390.6 202.72)">0.5</text>
<line x1="391.5" y1="184.83" x2="394.3" y2="184.83" stroke="#000" stroke-width="0.95"/>
<text x="390.6" y="184.98" font-size="5.8" fill="#000" stroke="#000" stroke-width="0.06" text-anchor="end" dy="2.08" transform="rotate(0.05 390.6 184.98)">1.0</text>
<line x1="391.5" y1="167.1" x2="394.3" y2="167.1" stroke="#000" stroke-width="0.95"/>
<text x="390.6" y="167.25" font-size="5.8" fill="#000" stroke="#000" stroke-width="0.06" text-anchor="end" dy="2.08" transform="rotate(0.05 390.6 167.25)">1.5</text>
<line x1="407.8" y1="180.22" x2="407.8" y2="184.83" stroke="#000" stroke-width="0.85"/>
<line x1="403.48" y1="180.22" x2="412.12" y2="180.22" stroke="#000" stroke-width="0.85"/>
<rect x="400.6" y="184.83" width="14.4" height="35.47" fill="#000"/>
<line x1="428.35" y1="189.62" x2="428.35" y2="192.28" stroke="#000" stroke-width="0.85"/>
<line x1="424.12" y1="189.62" x2="432.58" y2="189.62" stroke="#000" stroke-width="0.85"/>
<rect x="421.55" y="192.53" width="13.6" height="27.77" fill="#fff" stroke="#000" stroke-width="0.6"/>
<line x1="407.8" y1="220.3" x2="407.8" y2="222.5" stroke="#000" stroke-width="0.9"/>
<line x1="428.3" y1="220.3" x2="428.3" y2="222.5" stroke="#000" stroke-width="0.9"/>
<text x="407.2" y="226.8" font-size="5.6" fill="#000" stroke="#000" stroke-width="0.13" text-anchor="middle" dy="2" transform="rotate(0.05 407.2 226.8)">Feeding</text>
<text x="428.7" y="226.8" font-size="5.6" fill="#000" stroke="#000" stroke-width="0.13" text-anchor="middle" dy="2" transform="rotate(0.05 428.7 226.8)">Fasting</text>
<text x="368.9" y="194.6" font-size="5.5" fill="#000" stroke="#000" stroke-width="0.13" text-anchor="middle" dy="1.97" transform="rotate(-89.95 368.9 194.6)">Relative mRNA expression</text>
<text x="374.9" y="194.6" font-size="5.5" fill="#000" stroke="#000" stroke-width="0.13" text-anchor="middle" dy="1.97" transform="rotate(-89.95 374.9 194.6)">(Fold of control)</text>
</g>
<g id="panelF">
<text x="0" y="0" font-size="14.8" font-weight="bold" fill="#000" transform="translate(511.95 154.8) rotate(0.05) scale(0.915 1)">F</text>
<text x="560.6" y="154" font-size="6.9" fill="#000" stroke="#000" stroke-width="0.13" text-anchor="middle" dominant-baseline="central">BCKDK</text>
<line x1="538.7" y1="162.93" x2="538.7" y2="219.97" stroke="#000" stroke-width="0.95"/>
<line x1="538.23" y1="219.5" x2="588.9" y2="219.5" stroke="#000" stroke-width="0.95"/>
<line x1="535.9" y1="219.5" x2="538.7" y2="219.5" stroke="#000" stroke-width="0.95"/>
<text x="535" y="219.65" font-size="5.8" fill="#000" stroke="#000" stroke-width="0.06" text-anchor="end" dy="2.08" transform="rotate(0.05 535 219.65)">0.0</text>
<line x1="535.9" y1="200.8" x2="538.7" y2="200.8" stroke="#000" stroke-width="0.95"/>
<text x="535" y="200.95" font-size="5.8" fill="#000" stroke="#000" stroke-width="0.06" text-anchor="end" dy="2.08" transform="rotate(0.05 535 200.95)">0.5</text>
<line x1="535.9" y1="182.1" x2="538.7" y2="182.1" stroke="#000" stroke-width="0.95"/>
<text x="535" y="182.25" font-size="5.8" fill="#000" stroke="#000" stroke-width="0.06" text-anchor="end" dy="2.08" transform="rotate(0.05 535 182.25)">1.0</text>
<line x1="535.9" y1="163.4" x2="538.7" y2="163.4" stroke="#000" stroke-width="0.95"/>
<text x="535" y="163.55" font-size="5.8" fill="#000" stroke="#000" stroke-width="0.06" text-anchor="end" dy="2.08" transform="rotate(0.05 535 163.55)">1.5</text>
<line x1="553" y1="172.75" x2="553" y2="181.5" stroke="#000" stroke-width="0.85"/>
<line x1="548.8" y1="172.75" x2="557.2" y2="172.75" stroke="#000" stroke-width="0.85"/>
<rect x="546" y="181.5" width="14" height="38" fill="#000"/>
<line x1="574.35" y1="213.33" x2="574.35" y2="214.41" stroke="#000" stroke-width="0.85"/>
<line x1="570.18" y1="213.33" x2="578.52" y2="213.33" stroke="#000" stroke-width="0.85"/>
<rect x="567.65" y="214.66" width="13.4" height="4.84" fill="#F43D41" stroke="#3a0508" stroke-width="0.5"/>
<text x="574.2" y="210.75" font-size="5.5" fill="#000" stroke="#000" stroke-width="0.1" text-anchor="middle" dy="1.97" transform="rotate(0.05 574.2 210.75)">***</text>
<circle cx="540" cy="233.4" r="2.2" fill="#000"/>
<text x="544.8" y="233.2" font-size="6" fill="#111" stroke="#111" stroke-width="0.1" dy="2.15" transform="rotate(0.05 544.8 233.2)">BCKDK<tspan font-size="4.62" baseline-shift="2.46">loxP/loxP</tspan> (WT)</text>
<circle cx="540" cy="242.2" r="2.2" fill="#F5141B"/>
<text x="544.8" y="242" font-size="6" fill="#111" stroke="#111" stroke-width="0.1" dy="2.15" transform="rotate(0.05 544.8 242)">BCKDK<tspan font-size="4.62" baseline-shift="2.46">Alb</tspan> KO (Cre)</text>
<text x="513.6" y="192" font-size="5.6" fill="#000" stroke="#000" stroke-width="0.13" text-anchor="middle" dy="2" transform="rotate(-89.95 513.6 192)">Relative mRNA expression</text>
<text x="520.2" y="192" font-size="5.6" fill="#000" stroke="#000" stroke-width="0.13" text-anchor="middle" dy="2" transform="rotate(-89.95 520.2 192)">(Fold of control)</text>
</g>
<g id="panelG">
<text x="0" y="0" font-size="14.8" font-weight="bold" fill="#000" transform="translate(0.75 291.2) rotate(0.05) scale(0.915 1)">G</text>
<text x="3.8" y="333.2" font-size="6.5" fill="#222" stroke="#222" stroke-width="0.05" dy="2.33" transform="rotate(0.05 3.8 333.2)">BCKDK</text>
<text x="5.9" y="348.4" font-size="6.5" fill="#222" stroke="#222" stroke-width="0.05" dy="2.33" transform="rotate(0.05 5.9 348.4)">HSP90</text>
<text x="200.2" y="333.4" font-size="5.8" fill="#000" stroke="#000" stroke-width="0.13" dy="2.08" transform="rotate(0.05 200.2 333.4)">45kDa</text>
<text x="200.2" y="348.3" font-size="5.8" fill="#000" stroke="#000" stroke-width="0.13" dy="2.08" transform="rotate(0.05 200.2 348.3)">90kDa</text>
<line x1="30" y1="309.4" x2="53.9" y2="309.4" stroke="#a6a6a6" stroke-width="1.25"/>
<text x="41.95" y="304.6" font-size="6.5" fill="#000" stroke="#000" stroke-width="0.13" text-anchor="middle" dy="2.33" transform="rotate(0.05 41.95 304.6)">Liver</text>
<text x="36.57" y="318.9" font-size="6.6" fill="#000" stroke="#000" stroke-width="0.1" text-anchor="middle" transform="rotate(-45 36.57 318.9)" dominant-baseline="central">WT</text>
<text x="47.93" y="318.9" font-size="6.6" fill="#000" stroke="#000" stroke-width="0.1" text-anchor="middle" transform="rotate(-45 47.93 318.9)" dominant-baseline="central">KO</text>
<rect x="29.6" y="327.3" width="24.7" height="12.4" fill="#dcdcdc"/>
<clipPath id="cG0_0"><rect x="29.6" y="327.3" width="24.7" height="12.4"/></clipPath>
<g clip-path="url(#cG0_0)">
<rect x="30.27" y="327" width="12" height="9" rx="2" fill="#000" opacity="0.5" filter="url(#b2)"/>
<ellipse cx="36.77" cy="330.9" rx="3.5" ry="2.5" fill="#000" opacity="0.45" filter="url(#b2)"/>
<rect x="41.88" y="327" width="11.5" height="9" rx="2" fill="#000" opacity="0.2" filter="url(#b2)"/>
</g>
<rect x="29.6" y="327.3" width="24.7" height="12.4" fill="none" stroke="#2a2a2a" stroke-width="0.9"/>
<rect x="29.6" y="342.4" width="24.7" height="12.7" fill="#ececec"/>
<clipPath id="cG0_1"><rect x="29.6" y="342.4" width="24.7" height="12.7"/></clipPath>
<g clip-path="url(#cG0_1)">
<ellipse cx="36.27" cy="348.25" rx="6" ry="1.3" fill="#000" opacity="1" filter="url(#b1)"/>
<rect x="31.77" y="347.81" width="9" height="0.88" rx="0.44" fill="#000" opacity="1" filter="url(#b0)"/>
<ellipse cx="47.63" cy="349.45" rx="6" ry="1.4" fill="#000" opacity="1" filter="url(#b1)"/>
<rect x="43.13" y="348.95" width="9" height="0.99" rx="0.5" fill="#000" opacity="1" filter="url(#b0)"/>
</g>
<rect x="29.6" y="342.4" width="24.7" height="12.7" fill="none" stroke="#2a2a2a" stroke-width="0.9"/>
<line x1="58" y1="309.4" x2="82.3" y2="309.4" stroke="#a6a6a6" stroke-width="1.25"/>
<text x="70.15" y="304.6" font-size="6.5" fill="#000" stroke="#000" stroke-width="0.13" text-anchor="middle" dy="2.33" transform="rotate(0.05 70.15 304.6)">Muscle</text>
<text x="64.68" y="318.9" font-size="6.6" fill="#000" stroke="#000" stroke-width="0.1" text-anchor="middle" transform="rotate(-45 64.68 318.9)" dominant-baseline="central">WT</text>
<text x="76.22" y="318.9" font-size="6.6" fill="#000" stroke="#000" stroke-width="0.1" text-anchor="middle" transform="rotate(-45 76.22 318.9)" dominant-baseline="central">KO</text>
<rect x="57.6" y="327.3" width="25.1" height="12.4" fill="#c6c6c6"/>
<clipPath id="cG1_0"><rect x="57.6" y="327.3" width="25.1" height="12.4"/></clipPath>
<g clip-path="url(#cG1_0)">
<rect x="57.15" y="330.55" width="26" height="9.5" rx="2" fill="#000" opacity="0.55" filter="url(#b2)"/>
<rect x="58.38" y="332.3" width="12" height="6" rx="2.5" fill="#000" opacity="0.95" filter="url(#b2)"/>
<rect x="69.67" y="331.1" width="12.5" height="7.2" rx="2.5" fill="#000" opacity="0.95" filter="url(#b2)"/>
<ellipse cx="64.38" cy="335.3" rx="5" ry="1.75" fill="#000" opacity="0.8" filter="url(#b1)"/>
<ellipse cx="75.92" cy="334.7" rx="5.25" ry="2.25" fill="#000" opacity="0.8" filter="url(#b1)"/>
</g>
<rect x="57.6" y="327.3" width="25.1" height="12.4" fill="none" stroke="#2a2a2a" stroke-width="0.9"/>
<rect x="57.6" y="342.4" width="25.1" height="12.7" fill="#e0e0e0"/>
<clipPath id="cG1_1"><rect x="57.6" y="342.4" width="25.1" height="12.7"/></clipPath>
<g clip-path="url(#cG1_1)">
<ellipse cx="64.38" cy="348.55" rx="5.5" ry="1.45" fill="#000" opacity="0.65" filter="url(#b1)"/>
<ellipse cx="75.92" cy="348.95" rx="6" ry="1.8" fill="#000" opacity="0.95" filter="url(#b1)"/>
<rect x="71.42" y="348.24" width="9" height="1.43" rx="0.72" fill="#000" opacity="0.95" filter="url(#b0)"/>
</g>
<rect x="57.6" y="342.4" width="25.1" height="12.7" fill="none" stroke="#2a2a2a" stroke-width="0.9"/>
<line x1="86.6" y1="309.4" x2="110.9" y2="309.4" stroke="#a6a6a6" stroke-width="1.25"/>
<text x="98.75" y="304.6" font-size="6.5" fill="#000" stroke="#000" stroke-width="0.13" text-anchor="middle" font-style="italic" dy="2.33" transform="rotate(0.05 98.75 304.6)">iWAT</text>
<text x="93.28" y="318.9" font-size="6.6" fill="#000" stroke="#000" stroke-width="0.1" text-anchor="middle" transform="rotate(-45 93.28 318.9)" dominant-baseline="central">WT</text>
<text x="104.82" y="318.9" font-size="6.6" fill="#000" stroke="#000" stroke-width="0.1" text-anchor="middle" transform="rotate(-45 104.82 318.9)" dominant-baseline="central">KO</text>
<rect x="86.2" y="327.3" width="25.1" height="12.4" fill="#e0e0e0"/>
<clipPath id="cG2_0"><rect x="86.2" y="327.3" width="25.1" height="12.4"/></clipPath>
<g clip-path="url(#cG2_0)">
<rect x="87.48" y="330.5" width="11" height="7" rx="3" fill="#000" opacity="0.16" filter="url(#b2)"/>
<rect x="99.02" y="329.5" width="11" height="7" rx="3" fill="#000" opacity="0.2" filter="url(#b2)"/>
<ellipse cx="104.52" cy="332" rx="4.5" ry="1.25" fill="#000" opacity="0.15" filter="url(#b2)"/>
</g>
<rect x="86.2" y="327.3" width="25.1" height="12.4" fill="none" stroke="#2a2a2a" stroke-width="0.9"/>
<rect x="86.2" y="342.4" width="25.1" height="12.7" fill="#f0f0f0"/>
<clipPath id="cG2_1"><rect x="86.2" y="342.4" width="25.1" height="12.7"/></clipPath>
<g clip-path="url(#cG2_1)">
<ellipse cx="92.98" cy="348.95" rx="5.25" ry="1" fill="#000" opacity="0.3" filter="url(#b1)"/>
<ellipse cx="104.52" cy="348.75" rx="5.25" ry="1.05" fill="#000" opacity="0.38" filter="url(#b1)"/>
</g>
<rect x="86.2" y="342.4" width="25.1" height="12.7" fill="none" stroke="#2a2a2a" stroke-width="0.9"/>
<line x1="115.1" y1="309.4" x2="139.4" y2="309.4" stroke="#a6a6a6" stroke-width="1.25"/>
<text x="127.25" y="304.6" font-size="6.5" fill="#000" stroke="#000" stroke-width="0.13" text-anchor="middle" dy="2.33" transform="rotate(0.05 127.25 304.6)">Spleen</text>
<text x="121.78" y="318.9" font-size="6.6" fill="#000" stroke="#000" stroke-width="0.1" text-anchor="middle" transform="rotate(-45 121.78 318.9)" dominant-baseline="central">WT</text>
<text x="133.32" y="318.9" font-size="6.6" fill="#000" stroke="#000" stroke-width="0.1" text-anchor="middle" transform="rotate(-45 133.32 318.9)" dominant-baseline="central">KO</text>
<rect x="114.7" y="327.3" width="25.1" height="12.4" fill="#c8c8c8"/>
<clipPath id="cG3_0"><rect x="114.7" y="327.3" width="25.1" height="12.4"/></clipPath>
<g clip-path="url(#cG3_0)">
<rect x="114.25" y="329.5" width="26" height="9" rx="2" fill="#000" opacity="0.4" filter="url(#b2)"/>
<rect x="115.48" y="331.6" width="12" height="5.4" rx="2.5" fill="#000" opacity="0.95" filter="url(#b2)"/>
<rect x="127.02" y="330.8" width="12" height="5.8" rx="2.5" fill="#000" opacity="0.95" filter="url(#b2)"/>
<ellipse cx="121.48" cy="334.3" rx="5.25" ry="1.6" fill="#000" opacity="0.8" filter="url(#b1)"/>
<ellipse cx="133.02" cy="333.7" rx="5.25" ry="1.7" fill="#000" opacity="0.8" filter="url(#b1)"/>
</g>
<rect x="114.7" y="327.3" width="25.1" height="12.4" fill="none" stroke="#2a2a2a" stroke-width="0.9"/>
<rect x="114.7" y="342.4" width="25.1" height="12.7" fill="#e8e8e8"/>
<clipPath id="cG3_1"><rect x="114.7" y="342.4" width="25.1" height="12.7"/></clipPath>
<g clip-path="url(#cG3_1)">
<ellipse cx="121.48" cy="348.15" rx="5.75" ry="2.3" fill="#000" opacity="1" filter="url(#b1)"/>
<rect x="117.23" y="347.16" width="8.5" height="1.98" rx="0.99" fill="#000" opacity="1" filter="url(#b0)"/>
<ellipse cx="133.02" cy="349.05" rx="5.5" ry="2.4" fill="#000" opacity="1" filter="url(#b1)"/>
<rect x="129.02" y="348" width="8" height="2.09" rx="1.04" fill="#000" opacity="1" filter="url(#b0)"/>
</g>
<rect x="114.7" y="342.4" width="25.1" height="12.7" fill="none" stroke="#2a2a2a" stroke-width="0.9"/>
<line x1="143.6" y1="309.4" x2="167.9" y2="309.4" stroke="#a6a6a6" stroke-width="1.25"/>
<text x="155.75" y="304.6" font-size="6.5" fill="#000" stroke="#000" stroke-width="0.13" text-anchor="middle" dy="2.33" transform="rotate(0.05 155.75 304.6)">Kidney</text>
<text x="150.28" y="318.9" font-size="6.6" fill="#000" stroke="#000" stroke-width="0.1" text-anchor="middle" transform="rotate(-45 150.28 318.9)" dominant-baseline="central">WT</text>
<text x="161.82" y="318.9" font-size="6.6" fill="#000" stroke="#000" stroke-width="0.1" text-anchor="middle" transform="rotate(-45 161.82 318.9)" dominant-baseline="central">KO</text>
<rect x="143.2" y="327.3" width="25.1" height="12.4" fill="#cfcfcf"/>
<clipPath id="cG4_0"><rect x="143.2" y="327.3" width="25.1" height="12.4"/></clipPath>
<g clip-path="url(#cG4_0)">
<rect x="142.75" y="329.5" width="26" height="9" rx="2" fill="#000" opacity="0.35" filter="url(#b2)"/>
<rect x="143.98" y="331.7" width="12" height="4.8" rx="2.5" fill="#000" opacity="0.95" filter="url(#b2)"/>
<rect x="155.52" y="330.9" width="12" height="5" rx="2.5" fill="#000" opacity="0.95" filter="url(#b2)"/>
<ellipse cx="149.98" cy="334.1" rx="5.25" ry="1.5" fill="#000" opacity="0.8" filter="url(#b1)"/>
<ellipse cx="161.52" cy="333.4" rx="5.25" ry="1.5" fill="#000" opacity="0.8" filter="url(#b1)"/>
</g>
<rect x="143.2" y="327.3" width="25.1" height="12.4" fill="none" stroke="#2a2a2a" stroke-width="0.9"/>
<rect x="143.2" y="342.4" width="25.1" height="12.7" fill="#ebebeb"/>
<clipPath id="cG4_1"><rect x="143.2" y="342.4" width="25.1" height="12.7"/></clipPath>
<g clip-path="url(#cG4_1)">
<ellipse cx="149.98" cy="348.85" rx="5.75" ry="1.55" fill="#000" opacity="0.95" filter="url(#b1)"/>
<rect x="145.73" y="348.27" width="8.5" height="1.16" rx="0.58" fill="#000" opacity="0.95" filter="url(#b0)"/>
<ellipse cx="161.52" cy="349.05" rx="5.75" ry="1.65" fill="#000" opacity="0.95" filter="url(#b1)"/>
<rect x="157.27" y="348.42" width="8.5" height="1.26" rx="0.63" fill="#000" opacity="0.95" filter="url(#b0)"/>
</g>
<rect x="143.2" y="342.4" width="25.1" height="12.7" fill="none" stroke="#2a2a2a" stroke-width="0.9"/>
<line x1="171.9" y1="309.4" x2="196.8" y2="309.4" stroke="#a6a6a6" stroke-width="1.25"/>
<text x="184.35" y="304.6" font-size="6.5" fill="#000" stroke="#000" stroke-width="0.13" text-anchor="middle" dy="2.33" transform="rotate(0.05 184.35 304.6)">Brain</text>
<text x="178.74" y="318.9" font-size="6.6" fill="#000" stroke="#000" stroke-width="0.1" text-anchor="middle" transform="rotate(-45 178.74 318.9)" dominant-baseline="central">WT</text>
<text x="190.56" y="318.9" font-size="6.6" fill="#000" stroke="#000" stroke-width="0.1" text-anchor="middle" transform="rotate(-45 190.56 318.9)" dominant-baseline="central">KO</text>
<rect x="171.5" y="327.3" width="25.7" height="12.4" fill="#d2d2d2"/>
<clipPath id="cG5_0"><rect x="171.5" y="327.3" width="25.7" height="12.4"/></clipPath>
<g clip-path="url(#cG5_0)">
<rect x="171.35" y="330" width="26" height="8" rx="2" fill="#000" opacity="0.25" filter="url(#b2)"/>
<rect x="173.19" y="333.4" width="10.5" height="3" rx="1.5" fill="#000" opacity="0.95" filter="url(#b1)"/>
<rect x="185.01" y="331.5" width="10.5" height="3.2" rx="1.6" fill="#000" opacity="0.95" filter="url(#b1)"/>
</g>
<rect x="171.5" y="327.3" width="25.7" height="12.4" fill="none" stroke="#2a2a2a" stroke-width="0.9"/>
<rect x="171.5" y="342.4" width="25.7" height="12.7" fill="#dedede"/>
<clipPath id="cG5_1"><rect x="171.5" y="342.4" width="25.7" height="12.7"/></clipPath>
<g clip-path="url(#cG5_1)">
<ellipse cx="178.44" cy="349.05" rx="5.75" ry="2.2" fill="#000" opacity="1" filter="url(#b1)"/>
<rect x="174.19" y="348.12" width="8.5" height="1.87" rx="0.94" fill="#000" opacity="1" filter="url(#b0)"/>
<ellipse cx="190.26" cy="348.95" rx="5.75" ry="2.4" fill="#000" opacity="1" filter="url(#b1)"/>
<rect x="186.01" y="347.9" width="8.5" height="2.09" rx="1.04" fill="#000" opacity="1" filter="url(#b0)"/>
</g>
<rect x="171.5" y="342.4" width="25.7" height="12.7" fill="none" stroke="#2a2a2a" stroke-width="0.9"/>
<line x1="257.6" y1="297.82" x2="257.6" y2="354.78" stroke="#000" stroke-width="0.95"/>
<line x1="257.12" y1="354.3" x2="365.4" y2="354.3" stroke="#000" stroke-width="0.95"/>
<line x1="254.8" y1="354.3" x2="257.6" y2="354.3" stroke="#000" stroke-width="0.95"/>
<text x="253.9" y="354.45" font-size="5.8" fill="#000" stroke="#000" stroke-width="0.06" text-anchor="end" dy="2.08" transform="rotate(0.05 253.9 354.45)">0.0</text>
<line x1="254.8" y1="340.3" x2="257.6" y2="340.3" stroke="#000" stroke-width="0.95"/>
<text x="253.9" y="340.45" font-size="5.8" fill="#000" stroke="#000" stroke-width="0.06" text-anchor="end" dy="2.08" transform="rotate(0.05 253.9 340.45)">0.5</text>
<line x1="254.8" y1="326.3" x2="257.6" y2="326.3" stroke="#000" stroke-width="0.95"/>
<text x="253.9" y="326.45" font-size="5.8" fill="#000" stroke="#000" stroke-width="0.06" text-anchor="end" dy="2.08" transform="rotate(0.05 253.9 326.45)">1.0</text>
<line x1="254.8" y1="312.3" x2="257.6" y2="312.3" stroke="#000" stroke-width="0.95"/>
<text x="253.9" y="312.45" font-size="5.8" fill="#000" stroke="#000" stroke-width="0.06" text-anchor="end" dy="2.08" transform="rotate(0.05 253.9 312.45)">1.5</text>
<line x1="254.8" y1="298.3" x2="257.6" y2="298.3" stroke="#000" stroke-width="0.95"/>
<text x="253.9" y="298.45" font-size="5.8" fill="#000" stroke="#000" stroke-width="0.06" text-anchor="end" dy="2.08" transform="rotate(0.05 253.9 298.45)">2.0</text>
<line x1="263.2" y1="324.06" x2="263.2" y2="326.86" stroke="#000" stroke-width="0.7"/>
<line x1="261.46" y1="324.06" x2="264.94" y2="324.06" stroke="#000" stroke-width="0.7"/>
<rect x="260.3" y="326.86" width="5.8" height="27.44" fill="#000"/>
<line x1="269.35" y1="338.48" x2="269.35" y2="339.18" stroke="#000" stroke-width="0.7"/>
<line x1="267.64" y1="338.48" x2="271.06" y2="338.48" stroke="#000" stroke-width="0.7"/>
<rect x="266.75" y="339.43" width="5.2" height="14.87" fill="#F43D41" stroke="#3a0508" stroke-width="0.5"/>
<text x="265.5" y="363.1" font-size="5.25" fill="#000" stroke="#000" stroke-width="0.13" text-anchor="middle" dy="1.88" transform="rotate(0.05 265.5 363.1)">Liver</text>
<line x1="281.26" y1="325.74" x2="281.26" y2="326.86" stroke="#000" stroke-width="0.7"/>
<line x1="279.52" y1="325.74" x2="283" y2="325.74" stroke="#000" stroke-width="0.7"/>
<rect x="278.36" y="326.86" width="5.8" height="27.44" fill="#000"/>
<line x1="287.41" y1="310.34" x2="287.41" y2="313.14" stroke="#000" stroke-width="0.7"/>
<line x1="285.7" y1="310.34" x2="289.12" y2="310.34" stroke="#000" stroke-width="0.7"/>
<rect x="284.81" y="313.39" width="5.2" height="40.91" fill="#F43D41" stroke="#3a0508" stroke-width="0.5"/>
<text x="284.3" y="363.1" font-size="5.25" fill="#000" stroke="#000" stroke-width="0.13" text-anchor="middle" dy="1.88" transform="rotate(0.05 284.3 363.1)">Muscle</text>
<line x1="299.32" y1="323.5" x2="299.32" y2="326.86" stroke="#000" stroke-width="0.7"/>
<line x1="297.58" y1="323.5" x2="301.06" y2="323.5" stroke="#000" stroke-width="0.7"/>
<rect x="296.42" y="326.86" width="5.8" height="27.44" fill="#000"/>
<line x1="305.47" y1="319.3" x2="305.47" y2="322.66" stroke="#000" stroke-width="0.7"/>
<line x1="303.76" y1="319.3" x2="307.18" y2="319.3" stroke="#000" stroke-width="0.7"/>
<rect x="302.87" y="322.91" width="5.2" height="31.39" fill="#F43D41" stroke="#3a0508" stroke-width="0.5"/>
<text x="303" y="363.1" font-size="5.25" fill="#000" stroke="#000" stroke-width="0.13" text-anchor="middle" font-style="italic" dy="1.88" transform="rotate(0.05 303 363.1)">iWAT</text>
<line x1="317.38" y1="324.62" x2="317.38" y2="326.86" stroke="#000" stroke-width="0.7"/>
<line x1="315.64" y1="324.62" x2="319.12" y2="324.62" stroke="#000" stroke-width="0.7"/>
<rect x="314.48" y="326.86" width="5.8" height="27.44" fill="#000"/>
<line x1="323.53" y1="320.7" x2="323.53" y2="322.1" stroke="#000" stroke-width="0.7"/>
<line x1="321.82" y1="320.7" x2="325.24" y2="320.7" stroke="#000" stroke-width="0.7"/>
<rect x="320.93" y="322.35" width="5.2" height="31.95" fill="#F43D41" stroke="#3a0508" stroke-width="0.5"/>
<text x="320.1" y="363.1" font-size="5.25" fill="#000" stroke="#000" stroke-width="0.13" text-anchor="middle" dy="1.88" transform="rotate(0.05 320.1 363.1)">Spleen</text>
<line x1="335.44" y1="325.74" x2="335.44" y2="326.86" stroke="#000" stroke-width="0.7"/>
<line x1="333.7" y1="325.74" x2="337.18" y2="325.74" stroke="#000" stroke-width="0.7"/>
<rect x="332.54" y="326.86" width="5.8" height="27.44" fill="#000"/>
<line x1="341.59" y1="327.56" x2="341.59" y2="328.26" stroke="#000" stroke-width="0.7"/>
<line x1="339.88" y1="327.56" x2="343.3" y2="327.56" stroke="#000" stroke-width="0.7"/>
<rect x="338.99" y="328.51" width="5.2" height="25.79" fill="#F43D41" stroke="#3a0508" stroke-width="0.5"/>
<text x="339" y="363.1" font-size="5.25" fill="#000" stroke="#000" stroke-width="0.13" text-anchor="middle" dy="1.88" transform="rotate(0.05 339 363.1)">Kidney</text>
<line x1="353.5" y1="324.06" x2="353.5" y2="326.86" stroke="#000" stroke-width="0.7"/>
<line x1="351.76" y1="324.06" x2="355.24" y2="324.06" stroke="#000" stroke-width="0.7"/>
<rect x="350.6" y="326.86" width="5.8" height="27.44" fill="#000"/>
<line x1="359.65" y1="325.46" x2="359.65" y2="326.58" stroke="#000" stroke-width="0.7"/>
<line x1="357.94" y1="325.46" x2="361.36" y2="325.46" stroke="#000" stroke-width="0.7"/>
<rect x="357.05" y="326.83" width="5.2" height="27.47" fill="#F43D41" stroke="#3a0508" stroke-width="0.5"/>
<text x="355.3" y="363.1" font-size="5.25" fill="#000" stroke="#000" stroke-width="0.13" text-anchor="middle" dy="1.88" transform="rotate(0.05 355.3 363.1)">Brain</text>
<text x="269.6" y="337.39" font-size="5.2" fill="#000" stroke="#000" stroke-width="0.1" text-anchor="middle" dy="1.86" transform="rotate(0.05 269.6 337.39)">*</text>
<circle cx="263.3" cy="286.8" r="2" fill="#000"/>
<text x="268.2" y="286.6" font-size="5.2" fill="#111" stroke="#111" stroke-width="0.1" dy="1.86" transform="rotate(0.05 268.2 286.6)">BCKDK<tspan font-size="4" baseline-shift="2.13">loxP/loxP</tspan></text>
<circle cx="263.3" cy="295" r="2" fill="#F5141B"/>
<text x="268.2" y="294.8" font-size="5.2" fill="#111" stroke="#111" stroke-width="0.1" dy="1.86" transform="rotate(0.05 268.2 294.8)">BCKDK<tspan font-size="4" baseline-shift="2.13">Alb</tspan> KO</text>
<text x="233.4" y="326.3" font-size="5.7" fill="#000" stroke="#000" stroke-width="0.13" text-anchor="middle" dy="2.04" transform="rotate(-89.95 233.4 326.3)">Relative intensity</text>
<text x="240.3" y="326.3" font-size="5.7" fill="#000" stroke="#000" stroke-width="0.13" text-anchor="middle" dy="2.04" transform="rotate(-89.95 240.3 326.3)">(Fold of control)</text>
</g>
<g id="panelH">
<text x="0" y="0" font-size="14.8" font-weight="bold" fill="#000" transform="translate(422.25 290.7) rotate(0.05) scale(0.915 1)">H</text>
<line x1="443" y1="299.02" x2="443" y2="355.88" stroke="#000" stroke-width="0.95"/>
<line x1="442.52" y1="355.4" x2="493" y2="355.4" stroke="#000" stroke-width="0.95"/>
<line x1="440.2" y1="355.4" x2="443" y2="355.4" stroke="#000" stroke-width="0.95"/>
<text x="439.3" y="355.55" font-size="5.8" fill="#000" stroke="#000" stroke-width="0.06" text-anchor="end" dy="2.08" transform="rotate(0.05 439.3 355.55)">0</text>
<line x1="440.2" y1="336.77" x2="443" y2="336.77" stroke="#000" stroke-width="0.95"/>
<text x="439.3" y="336.92" font-size="5.8" fill="#000" stroke="#000" stroke-width="0.06" text-anchor="end" dy="2.08" transform="rotate(0.05 439.3 336.92)">10</text>
<line x1="440.2" y1="318.13" x2="443" y2="318.13" stroke="#000" stroke-width="0.95"/>
<text x="439.3" y="318.28" font-size="5.8" fill="#000" stroke="#000" stroke-width="0.06" text-anchor="end" dy="2.08" transform="rotate(0.05 439.3 318.28)">20</text>
<line x1="440.2" y1="299.5" x2="443" y2="299.5" stroke="#000" stroke-width="0.95"/>
<text x="439.3" y="299.65" font-size="5.8" fill="#000" stroke="#000" stroke-width="0.06" text-anchor="end" dy="2.08" transform="rotate(0.05 439.3 299.65)">30</text>
<line x1="457.1" y1="309.38" x2="457.1" y2="310.12" stroke="#000" stroke-width="0.85"/>
<line x1="452.84" y1="309.38" x2="461.36" y2="309.38" stroke="#000" stroke-width="0.85"/>
<rect x="450" y="310.12" width="14.2" height="45.28" fill="#000"/>
<line x1="478.25" y1="308.26" x2="478.25" y2="309.19" stroke="#000" stroke-width="0.85"/>
<line x1="473.96" y1="308.26" x2="482.54" y2="308.26" stroke="#000" stroke-width="0.85"/>
<rect x="471.35" y="309.44" width="13.8" height="45.96" fill="#F43D41" stroke="#3a0508" stroke-width="0.5"/>
<circle cx="444.4" cy="369.6" r="2.2" fill="#000"/>
<text x="449.2" y="369.4" font-size="5.6" fill="#111" stroke="#111" stroke-width="0.1" dy="2" transform="rotate(0.05 449.2 369.4)">BCKDK<tspan font-size="4.31" baseline-shift="2.3">loxP/loxP</tspan></text>
<circle cx="444.4" cy="378.2" r="2.2" fill="#F5141B"/>
<text x="449.2" y="378" font-size="5.6" fill="#111" stroke="#111" stroke-width="0.1" dy="2" transform="rotate(0.05 449.2 378)">BCKDK<tspan font-size="4.31" baseline-shift="2.3">Alb</tspan> KO</text>
<text x="426.7" y="327.7" font-size="6.1" fill="#000" stroke="#000" stroke-width="0.13" text-anchor="middle" dy="2.18" transform="rotate(-89.95 426.7 327.7)">Body weight (g)</text>
</g>
<g id="panelI">
<text x="0" y="0" font-size="14.8" font-weight="bold" fill="#000" transform="translate(554.45 290.8) rotate(0.05) scale(0.915 1)">I</text>
<line x1="574.3" y1="296.92" x2="574.3" y2="356.38" stroke="#000" stroke-width="0.95"/>
<line x1="573.82" y1="355.9" x2="641.2" y2="355.9" stroke="#000" stroke-width="0.95"/>
<line x1="571.3" y1="355.9" x2="574.3" y2="355.9" stroke="#000" stroke-width="0.95"/>
<text x="570.4" y="356.05" font-size="5.8" fill="#000" stroke="#000" stroke-width="0.06" text-anchor="end" dy="2.08" transform="rotate(0.05 570.4 356.05)">0</text>
<line x1="571.3" y1="344.2" x2="574.3" y2="344.2" stroke="#000" stroke-width="0.95"/>
<text x="570.4" y="344.35" font-size="5.8" fill="#000" stroke="#000" stroke-width="0.06" text-anchor="end" dy="2.08" transform="rotate(0.05 570.4 344.35)">2</text>
<line x1="571.3" y1="332.5" x2="574.3" y2="332.5" stroke="#000" stroke-width="0.95"/>
<text x="570.4" y="332.65" font-size="5.8" fill="#000" stroke="#000" stroke-width="0.06" text-anchor="end" dy="2.08" transform="rotate(0.05 570.4 332.65)">4</text>
<line x1="571.3" y1="320.8" x2="574.3" y2="320.8" stroke="#000" stroke-width="0.95"/>
<text x="570.4" y="320.95" font-size="5.8" fill="#000" stroke="#000" stroke-width="0.06" text-anchor="end" dy="2.08" transform="rotate(0.05 570.4 320.95)">6</text>
<line x1="571.3" y1="309.1" x2="574.3" y2="309.1" stroke="#000" stroke-width="0.95"/>
<text x="570.4" y="309.25" font-size="5.8" fill="#000" stroke="#000" stroke-width="0.06" text-anchor="end" dy="2.08" transform="rotate(0.05 570.4 309.25)">8</text>
<line x1="571.3" y1="297.4" x2="574.3" y2="297.4" stroke="#000" stroke-width="0.95"/>
<text x="570.4" y="297.55" font-size="5.8" fill="#000" stroke="#000" stroke-width="0.06" text-anchor="end" dy="2.08" transform="rotate(0.05 570.4 297.55)">10</text>
<line x1="585.3" y1="300.03" x2="585.3" y2="303.25" stroke="#000" stroke-width="0.85"/>
<line x1="582.24" y1="300.03" x2="588.36" y2="300.03" stroke="#000" stroke-width="0.85"/>
<rect x="580.2" y="303.25" width="10.2" height="52.65" fill="#000"/>
<line x1="596.55" y1="301.2" x2="596.55" y2="303.25" stroke="#000" stroke-width="0.85"/>
<line x1="593.46" y1="301.2" x2="599.64" y2="301.2" stroke="#000" stroke-width="0.85"/>
<rect x="591.65" y="303.5" width="9.8" height="52.4" fill="#F43D41" stroke="#3a0508" stroke-width="0.5"/>
<line x1="618.7" y1="324.13" x2="618.7" y2="326.06" stroke="#000" stroke-width="0.85"/>
<line x1="615.64" y1="324.13" x2="621.76" y2="324.13" stroke="#000" stroke-width="0.85"/>
<rect x="613.6" y="326.06" width="10.2" height="29.83" fill="#000"/>
<line x1="630.1" y1="322.55" x2="630.1" y2="324.6" stroke="#000" stroke-width="0.85"/>
<line x1="626.98" y1="322.55" x2="633.22" y2="322.55" stroke="#000" stroke-width="0.85"/>
<rect x="625.15" y="324.85" width="9.9" height="31.05" fill="#F43D41" stroke="#3a0508" stroke-width="0.5"/>
<line x1="590.9" y1="355.9" x2="590.9" y2="358.1" stroke="#000" stroke-width="0.9"/>
<line x1="624.3" y1="355.9" x2="624.3" y2="358.1" stroke="#000" stroke-width="0.9"/>
<circle cx="606.4" cy="287" r="2.2" fill="#000"/>
<text x="611.4" y="286.8" font-size="5.6" fill="#111" stroke="#111" stroke-width="0.1" dy="2" transform="rotate(0.05 611.4 286.8)">BCKDK<tspan font-size="4.31" baseline-shift="2.3">loxP/loxP</tspan></text>
<circle cx="606.4" cy="295" r="2.2" fill="#F5141B"/>
<text x="611.4" y="294.8" font-size="5.6" fill="#111" stroke="#111" stroke-width="0.1" dy="2" transform="rotate(0.05 611.4 294.8)">BCKDK<tspan font-size="4.31" baseline-shift="2.3">Alb</tspan> KO</text>
<text x="590.5" y="363.35" font-size="5.55" fill="#000" stroke="#000" stroke-width="0.13" text-anchor="middle" dy="1.99" transform="rotate(0.05 590.5 363.35)">Random</text>
<text x="624.3" y="363.35" font-size="5.55" fill="#000" stroke="#000" stroke-width="0.13" text-anchor="middle" dy="1.99" transform="rotate(0.05 624.3 363.35)">16hr Fasting</text>
<text x="557.1" y="326.8" font-size="5.8" fill="#000" stroke="#000" stroke-width="0.13" text-anchor="middle" dy="2.08" transform="rotate(-89.95 557.1 326.8)">Blood glucose (mM)</text>
</g>
<g id="panelJ">
<text x="0" y="0" font-size="14.8" font-weight="bold" fill="#000" transform="translate(5.95 425) rotate(0.05) scale(0.915 1)">J</text>
<text x="73.7" y="425.05" font-size="8.2" fill="#000" stroke="#000" stroke-width="0.08" text-anchor="middle" dy="2.94" transform="rotate(0.05 73.7 425.05)">GTT</text>
<line x1="28.9" y1="437.95" x2="28.9" y2="509.75" stroke="#000" stroke-width="0.9"/>
<line x1="28.45" y1="509.3" x2="119.1" y2="509.3" stroke="#000" stroke-width="0.9"/>
<line x1="25.9" y1="509.3" x2="28.9" y2="509.3" stroke="#000" stroke-width="0.9"/>
<text x="25" y="509.45" font-size="5.6" fill="#000" stroke="#000" stroke-width="0.06" text-anchor="end" dy="2" transform="rotate(0.05 25 509.45)">0</text>
<line x1="25.9" y1="485.67" x2="28.9" y2="485.67" stroke="#000" stroke-width="0.9"/>
<text x="25" y="485.82" font-size="5.6" fill="#000" stroke="#000" stroke-width="0.06" text-anchor="end" dy="2" transform="rotate(0.05 25 485.82)">10</text>
<line x1="25.9" y1="462.03" x2="28.9" y2="462.03" stroke="#000" stroke-width="0.9"/>
<text x="25" y="462.18" font-size="5.6" fill="#000" stroke="#000" stroke-width="0.06" text-anchor="end" dy="2" transform="rotate(0.05 25 462.18)">20</text>
<line x1="25.9" y1="438.4" x2="28.9" y2="438.4" stroke="#000" stroke-width="0.9"/>
<text x="25" y="438.55" font-size="5.6" fill="#000" stroke="#000" stroke-width="0.06" text-anchor="end" dy="2" transform="rotate(0.05 25 438.55)">30</text>
<line x1="28.9" y1="509.3" x2="28.9" y2="512.1" stroke="#000" stroke-width="0.9"/>
<text x="28.9" y="516.7" font-size="5.6" fill="#000" stroke="#000" stroke-width="0.06" text-anchor="middle" dy="2" transform="rotate(0.05 28.9 516.7)">0</text>
<line x1="46.84" y1="509.3" x2="46.84" y2="512.1" stroke="#000" stroke-width="0.9"/>
<text x="46.84" y="516.7" font-size="5.6" fill="#000" stroke="#000" stroke-width="0.06" text-anchor="middle" dy="2" transform="rotate(0.05 46.84 516.7)">30</text>
<line x1="64.78" y1="509.3" x2="64.78" y2="512.1" stroke="#000" stroke-width="0.9"/>
<text x="64.78" y="516.7" font-size="5.6" fill="#000" stroke="#000" stroke-width="0.06" text-anchor="middle" dy="2" transform="rotate(0.05 64.78 516.7)">60</text>
<line x1="82.72" y1="509.3" x2="82.72" y2="512.1" stroke="#000" stroke-width="0.9"/>
<text x="82.72" y="516.7" font-size="5.6" fill="#000" stroke="#000" stroke-width="0.06" text-anchor="middle" dy="2" transform="rotate(0.05 82.72 516.7)">90</text>
<line x1="100.66" y1="509.3" x2="100.66" y2="512.1" stroke="#000" stroke-width="0.9"/>
<text x="100.66" y="516.7" font-size="5.6" fill="#000" stroke="#000" stroke-width="0.06" text-anchor="middle" dy="2" transform="rotate(0.05 100.66 516.7)">120</text>
<line x1="118.6" y1="509.3" x2="118.6" y2="512.1" stroke="#000" stroke-width="0.9"/>
<text x="118.6" y="516.7" font-size="5.6" fill="#000" stroke="#000" stroke-width="0.06" text-anchor="middle" dy="2" transform="rotate(0.05 118.6 516.7)">150</text>
<text x="74.15" y="526.4" font-size="5.5" fill="#000" stroke="#000" stroke-width="0.13" text-anchor="middle" dy="1.97" transform="rotate(0.05 74.15 526.4)">Time (min)</text>
<text x="12" y="473.65" font-size="5.7" fill="#000" stroke="#000" stroke-width="0.13" text-anchor="middle" dy="2.04" transform="rotate(-89.95 12 473.65)">Blood glucose (mM)</text>
<path d="M28.9,491.1 L37.87,460.14 L46.84,466.76 L64.78,481.41 L100.66,488.98" fill="none" stroke="#EE2A30" stroke-width="0.95" stroke-linejoin="round"/>
<circle cx="28.9" cy="491.1" r="2" fill="#F23A40"/>
<line x1="37.87" y1="457.07" x2="37.87" y2="463.21" stroke="#EE2A30" stroke-width="0.7"/>
<line x1="35.97" y1="457.07" x2="39.77" y2="457.07" stroke="#EE2A30" stroke-width="0.7"/>
<line x1="35.97" y1="463.21" x2="39.77" y2="463.21" stroke="#EE2A30" stroke-width="0.7"/>
<circle cx="37.87" cy="460.14" r="2" fill="#F23A40"/>
<line x1="46.84" y1="464.4" x2="46.84" y2="469.12" stroke="#EE2A30" stroke-width="0.7"/>
<line x1="44.94" y1="464.4" x2="48.74" y2="464.4" stroke="#EE2A30" stroke-width="0.7"/>
<line x1="44.94" y1="469.12" x2="48.74" y2="469.12" stroke="#EE2A30" stroke-width="0.7"/>
<circle cx="46.84" cy="466.76" r="2" fill="#F23A40"/>
<line x1="64.78" y1="479.99" x2="64.78" y2="482.83" stroke="#EE2A30" stroke-width="0.7"/>
<line x1="62.88" y1="479.99" x2="66.68" y2="479.99" stroke="#EE2A30" stroke-width="0.7"/>
<line x1="62.88" y1="482.83" x2="66.68" y2="482.83" stroke="#EE2A30" stroke-width="0.7"/>
<circle cx="64.78" cy="481.41" r="2" fill="#F23A40"/>
<line x1="100.66" y1="487.32" x2="100.66" y2="490.63" stroke="#EE2A30" stroke-width="0.7"/>
<line x1="98.76" y1="487.32" x2="102.56" y2="487.32" stroke="#EE2A30" stroke-width="0.7"/>
<line x1="98.76" y1="490.63" x2="102.56" y2="490.63" stroke="#EE2A30" stroke-width="0.7"/>
<circle cx="100.66" cy="488.98" r="2" fill="#F23A40"/>
<path d="M28.9,491.34 L37.87,452.58 L46.84,472.67 L64.78,482.36 L100.66,488.74" fill="none" stroke="#000" stroke-width="0.95" stroke-linejoin="round"/>
<circle cx="28.9" cy="491.34" r="2" fill="#000"/>
<line x1="37.87" y1="449.27" x2="37.87" y2="455.89" stroke="#000" stroke-width="0.7"/>
<line x1="35.97" y1="449.27" x2="39.77" y2="449.27" stroke="#000" stroke-width="0.7"/>
<line x1="35.97" y1="455.89" x2="39.77" y2="455.89" stroke="#000" stroke-width="0.7"/>
<circle cx="37.87" cy="452.58" r="2" fill="#000"/>
<line x1="46.84" y1="471.49" x2="46.84" y2="473.85" stroke="#000" stroke-width="0.7"/>
<line x1="44.94" y1="471.49" x2="48.74" y2="471.49" stroke="#000" stroke-width="0.7"/>
<line x1="44.94" y1="473.85" x2="48.74" y2="473.85" stroke="#000" stroke-width="0.7"/>
<circle cx="46.84" cy="472.67" r="2" fill="#000"/>
<line x1="64.78" y1="479.99" x2="64.78" y2="484.72" stroke="#000" stroke-width="0.7"/>
<line x1="62.88" y1="479.99" x2="66.68" y2="479.99" stroke="#000" stroke-width="0.7"/>
<line x1="62.88" y1="484.72" x2="66.68" y2="484.72" stroke="#000" stroke-width="0.7"/>
<circle cx="64.78" cy="482.36" r="2" fill="#000"/>
<line x1="100.66" y1="487.56" x2="100.66" y2="489.92" stroke="#000" stroke-width="0.7"/>
<line x1="98.76" y1="487.56" x2="102.56" y2="487.56" stroke="#000" stroke-width="0.7"/>
<line x1="98.76" y1="489.92" x2="102.56" y2="489.92" stroke="#000" stroke-width="0.7"/>
<circle cx="100.66" cy="488.74" r="2" fill="#000"/>
<circle cx="36.1" cy="492.9" r="2.1" fill="#000"/>
<text x="40.9" y="492.7" font-size="5.6" fill="#111" stroke="#111" stroke-width="0.1" dy="2" transform="rotate(0.05 40.9 492.7)">BCKDK<tspan font-size="4.31" baseline-shift="2.3">loxP/loxP</tspan></text>
<circle cx="36.1" cy="501" r="2.1" fill="#F5141B"/>
<text x="40.9" y="500.8" font-size="5.6" fill="#111" stroke="#111" stroke-width="0.1" dy="2" transform="rotate(0.05 40.9 500.8)">BCKDK<tspan font-size="4.31" baseline-shift="2.3">Alb</tspan> KO</text>
</g>
<g id="aucJ">
<line x1="146" y1="454.05" x2="146" y2="510.45" stroke="#000" stroke-width="0.9"/>
<line x1="145.55" y1="510" x2="195.5" y2="510" stroke="#000" stroke-width="0.9"/>
<line x1="142.8" y1="510" x2="146" y2="510" stroke="#000" stroke-width="0.9"/>
<text x="141.9" y="510.15" font-size="5.6" fill="#000" stroke="#000" stroke-width="0.06" text-anchor="end" dy="2" transform="rotate(0.05 141.9 510.15)">0</text>
<line x1="142.8" y1="496.12" x2="146" y2="496.12" stroke="#000" stroke-width="0.9"/>
<text x="141.9" y="496.27" font-size="5.6" fill="#000" stroke="#000" stroke-width="0.06" text-anchor="end" dy="2" transform="rotate(0.05 141.9 496.27)">500</text>
<line x1="142.8" y1="482.25" x2="146" y2="482.25" stroke="#000" stroke-width="0.9"/>
<text x="141.9" y="482.4" font-size="5.6" fill="#000" stroke="#000" stroke-width="0.06" text-anchor="end" dy="2" transform="rotate(0.05 141.9 482.4)">1000</text>
<line x1="142.8" y1="468.38" x2="146" y2="468.38" stroke="#000" stroke-width="0.9"/>
<text x="141.9" y="468.52" font-size="5.6" fill="#000" stroke="#000" stroke-width="0.06" text-anchor="end" dy="2" transform="rotate(0.05 141.9 468.52)">1500</text>
<line x1="142.8" y1="454.5" x2="146" y2="454.5" stroke="#000" stroke-width="0.9"/>
<text x="141.9" y="454.65" font-size="5.6" fill="#000" stroke="#000" stroke-width="0.06" text-anchor="end" dy="2" transform="rotate(0.05 141.9 454.65)">2000</text>
<line x1="160.15" y1="465.41" x2="160.15" y2="467.9" stroke="#000" stroke-width="0.85"/>
<line x1="156.1" y1="465.41" x2="164.2" y2="465.41" stroke="#000" stroke-width="0.85"/>
<rect x="153.4" y="467.9" width="13.5" height="42.1" fill="#000"/>
<line x1="181.3" y1="464.27" x2="181.3" y2="467.18" stroke="#000" stroke-width="0.85"/>
<line x1="177.28" y1="464.27" x2="185.32" y2="464.27" stroke="#000" stroke-width="0.85"/>
<rect x="174.85" y="467.43" width="12.9" height="42.57" fill="#F43D41" stroke="#3a0508" stroke-width="0.5"/>
<text x="125.1" y="481.75" font-size="7" fill="#000" stroke="#000" stroke-width="0.13" text-anchor="middle" dy="2.51" transform="rotate(-89.95 125.1 481.75)">AUC</text>
<line x1="161.2" y1="460.2" x2="180.8" y2="460.2" stroke="#222" stroke-width="0.7"/>
<text x="170.6" y="456.2" font-size="5.4" fill="#000" stroke="#000" stroke-width="0.13" text-anchor="middle" dominant-baseline="central">ns</text>
</g>
<g id="panelK">
<text x="0" y="0" font-size="14.8" font-weight="bold" fill="#000" transform="translate(236.65 425) rotate(0.05) scale(0.915 1)">K</text>
<text x="301.1" y="425.15" font-size="8.2" fill="#000" stroke="#000" stroke-width="0.08" text-anchor="middle" dy="2.94" transform="rotate(0.05 301.1 425.15)">ITT</text>
<line x1="256.5" y1="437.95" x2="256.5" y2="509.75" stroke="#000" stroke-width="0.9"/>
<line x1="256.05" y1="509.3" x2="346.8" y2="509.3" stroke="#000" stroke-width="0.9"/>
<line x1="253.5" y1="509.3" x2="256.5" y2="509.3" stroke="#000" stroke-width="0.9"/>
<text x="252.6" y="509.45" font-size="5.6" fill="#000" stroke="#000" stroke-width="0.06" text-anchor="end" dy="2" transform="rotate(0.05 252.6 509.45)">0</text>
<line x1="253.5" y1="485.67" x2="256.5" y2="485.67" stroke="#000" stroke-width="0.9"/>
<text x="252.6" y="485.82" font-size="5.6" fill="#000" stroke="#000" stroke-width="0.06" text-anchor="end" dy="2" transform="rotate(0.05 252.6 485.82)">5</text>
<line x1="253.5" y1="462.03" x2="256.5" y2="462.03" stroke="#000" stroke-width="0.9"/>
<text x="252.6" y="462.18" font-size="5.6" fill="#000" stroke="#000" stroke-width="0.06" text-anchor="end" dy="2" transform="rotate(0.05 252.6 462.18)">10</text>
<line x1="253.5" y1="438.4" x2="256.5" y2="438.4" stroke="#000" stroke-width="0.9"/>
<text x="252.6" y="438.55" font-size="5.6" fill="#000" stroke="#000" stroke-width="0.06" text-anchor="end" dy="2" transform="rotate(0.05 252.6 438.55)">15</text>
<line x1="256.5" y1="509.3" x2="256.5" y2="512.1" stroke="#000" stroke-width="0.9"/>
<text x="256.5" y="516.7" font-size="5.6" fill="#000" stroke="#000" stroke-width="0.06" text-anchor="middle" dy="2" transform="rotate(0.05 256.5 516.7)">0</text>
<line x1="274.46" y1="509.3" x2="274.46" y2="512.1" stroke="#000" stroke-width="0.9"/>
<text x="274.46" y="516.7" font-size="5.6" fill="#000" stroke="#000" stroke-width="0.06" text-anchor="middle" dy="2" transform="rotate(0.05 274.46 516.7)">30</text>
<line x1="292.42" y1="509.3" x2="292.42" y2="512.1" stroke="#000" stroke-width="0.9"/>
<text x="292.42" y="516.7" font-size="5.6" fill="#000" stroke="#000" stroke-width="0.06" text-anchor="middle" dy="2" transform="rotate(0.05 292.42 516.7)">60</text>
<line x1="310.38" y1="509.3" x2="310.38" y2="512.1" stroke="#000" stroke-width="0.9"/>
<text x="310.38" y="516.7" font-size="5.6" fill="#000" stroke="#000" stroke-width="0.06" text-anchor="middle" dy="2" transform="rotate(0.05 310.38 516.7)">90</text>
<line x1="328.34" y1="509.3" x2="328.34" y2="512.1" stroke="#000" stroke-width="0.9"/>
<text x="328.34" y="516.7" font-size="5.6" fill="#000" stroke="#000" stroke-width="0.06" text-anchor="middle" dy="2" transform="rotate(0.05 328.34 516.7)">120</text>
<line x1="346.3" y1="509.3" x2="346.3" y2="512.1" stroke="#000" stroke-width="0.9"/>
<text x="346.3" y="516.7" font-size="5.6" fill="#000" stroke="#000" stroke-width="0.06" text-anchor="middle" dy="2" transform="rotate(0.05 346.3 516.7)">150</text>
<text x="301.8" y="526.4" font-size="5.5" fill="#000" stroke="#000" stroke-width="0.13" text-anchor="middle" dy="1.97" transform="rotate(0.05 301.8 526.4)">Time (min)</text>
<text x="239.4" y="473.65" font-size="5.7" fill="#000" stroke="#000" stroke-width="0.13" text-anchor="middle" dy="2.04" transform="rotate(-89.95 239.4 473.65)">Blood glucose (mM)</text>
<path d="M256.5,456.36 L265.48,475.27 L274.46,478.58 L292.42,483.3 L328.34,482.36" fill="none" stroke="#EE2A30" stroke-width="0.95" stroke-linejoin="round"/>
<line x1="256.5" y1="454" x2="256.5" y2="458.72" stroke="#EE2A30" stroke-width="0.7"/>
<line x1="254.6" y1="454" x2="258.4" y2="454" stroke="#EE2A30" stroke-width="0.7"/>
<line x1="254.6" y1="458.72" x2="258.4" y2="458.72" stroke="#EE2A30" stroke-width="0.7"/>
<circle cx="256.5" cy="456.36" r="2" fill="#F23A40"/>
<line x1="265.48" y1="472.9" x2="265.48" y2="477.63" stroke="#EE2A30" stroke-width="0.7"/>
<line x1="263.58" y1="472.9" x2="267.38" y2="472.9" stroke="#EE2A30" stroke-width="0.7"/>
<line x1="263.58" y1="477.63" x2="267.38" y2="477.63" stroke="#EE2A30" stroke-width="0.7"/>
<circle cx="265.48" cy="475.27" r="2" fill="#F23A40"/>
<line x1="274.46" y1="477.16" x2="274.46" y2="479.99" stroke="#EE2A30" stroke-width="0.7"/>
<line x1="272.56" y1="477.16" x2="276.36" y2="477.16" stroke="#EE2A30" stroke-width="0.7"/>
<line x1="272.56" y1="479.99" x2="276.36" y2="479.99" stroke="#EE2A30" stroke-width="0.7"/>
<circle cx="274.46" cy="478.58" r="2" fill="#F23A40"/>
<line x1="292.42" y1="481.89" x2="292.42" y2="484.72" stroke="#EE2A30" stroke-width="0.7"/>
<line x1="290.52" y1="481.89" x2="294.32" y2="481.89" stroke="#EE2A30" stroke-width="0.7"/>
<line x1="290.52" y1="484.72" x2="294.32" y2="484.72" stroke="#EE2A30" stroke-width="0.7"/>
<circle cx="292.42" cy="483.3" r="2" fill="#F23A40"/>
<line x1="328.34" y1="479.99" x2="328.34" y2="484.72" stroke="#EE2A30" stroke-width="0.7"/>
<line x1="326.44" y1="479.99" x2="330.24" y2="479.99" stroke="#EE2A30" stroke-width="0.7"/>
<line x1="326.44" y1="484.72" x2="330.24" y2="484.72" stroke="#EE2A30" stroke-width="0.7"/>
<circle cx="328.34" cy="482.36" r="2" fill="#F23A40"/>
<path d="M256.5,452.58 L265.48,470.07 L274.46,474.32 L292.42,478.1 L328.34,478.58" fill="none" stroke="#000" stroke-width="0.95" stroke-linejoin="round"/>
<line x1="256.5" y1="447.85" x2="256.5" y2="457.31" stroke="#000" stroke-width="0.7"/>
<line x1="254.6" y1="447.85" x2="258.4" y2="447.85" stroke="#000" stroke-width="0.7"/>
<line x1="254.6" y1="457.31" x2="258.4" y2="457.31" stroke="#000" stroke-width="0.7"/>
<circle cx="256.5" cy="452.58" r="2" fill="#000"/>
<line x1="265.48" y1="466.76" x2="265.48" y2="473.38" stroke="#000" stroke-width="0.7"/>
<line x1="263.58" y1="466.76" x2="267.38" y2="466.76" stroke="#000" stroke-width="0.7"/>
<line x1="263.58" y1="473.38" x2="267.38" y2="473.38" stroke="#000" stroke-width="0.7"/>
<circle cx="265.48" cy="470.07" r="2" fill="#000"/>
<line x1="274.46" y1="472.43" x2="274.46" y2="476.21" stroke="#000" stroke-width="0.7"/>
<line x1="272.56" y1="472.43" x2="276.36" y2="472.43" stroke="#000" stroke-width="0.7"/>
<line x1="272.56" y1="476.21" x2="276.36" y2="476.21" stroke="#000" stroke-width="0.7"/>
<circle cx="274.46" cy="474.32" r="2" fill="#000"/>
<line x1="292.42" y1="474.32" x2="292.42" y2="481.89" stroke="#000" stroke-width="0.7"/>
<line x1="290.52" y1="474.32" x2="294.32" y2="474.32" stroke="#000" stroke-width="0.7"/>
<line x1="290.52" y1="481.89" x2="294.32" y2="481.89" stroke="#000" stroke-width="0.7"/>
<circle cx="292.42" cy="478.1" r="2" fill="#000"/>
<line x1="328.34" y1="477.16" x2="328.34" y2="479.99" stroke="#000" stroke-width="0.7"/>
<line x1="326.44" y1="477.16" x2="330.24" y2="477.16" stroke="#000" stroke-width="0.7"/>
<line x1="326.44" y1="479.99" x2="330.24" y2="479.99" stroke="#000" stroke-width="0.7"/>
<circle cx="328.34" cy="478.58" r="2" fill="#000"/>
<circle cx="263" cy="493.2" r="2.1" fill="#000"/>
<text x="267.9" y="493" font-size="5.6" fill="#111" stroke="#111" stroke-width="0.1" dy="2" transform="rotate(0.05 267.9 493)">BCKDK<tspan font-size="4.31" baseline-shift="2.3">loxP/loxP</tspan></text>
<circle cx="263" cy="501.4" r="2.1" fill="#F5141B"/>
<text x="267.9" y="501.2" font-size="5.6" fill="#111" stroke="#111" stroke-width="0.1" dy="2" transform="rotate(0.05 267.9 501.2)">BCKDK<tspan font-size="4.31" baseline-shift="2.3">Alb</tspan> KO</text>
</g>
<g id="aucK">
<line x1="380.9" y1="453.95" x2="380.9" y2="510.85" stroke="#000" stroke-width="0.9"/>
<line x1="380.45" y1="510.4" x2="430.8" y2="510.4" stroke="#000" stroke-width="0.9"/>
<line x1="377.7" y1="510.4" x2="380.9" y2="510.4" stroke="#000" stroke-width="0.9"/>
<text x="376.8" y="510.55" font-size="5.6" fill="#000" stroke="#000" stroke-width="0.06" text-anchor="end" dy="2" transform="rotate(0.05 376.8 510.55)">0</text>
<line x1="377.7" y1="496.4" x2="380.9" y2="496.4" stroke="#000" stroke-width="0.9"/>
<text x="376.8" y="496.55" font-size="5.6" fill="#000" stroke="#000" stroke-width="0.06" text-anchor="end" dy="2" transform="rotate(0.05 376.8 496.55)">300</text>
<line x1="377.7" y1="482.4" x2="380.9" y2="482.4" stroke="#000" stroke-width="0.9"/>
<text x="376.8" y="482.55" font-size="5.6" fill="#000" stroke="#000" stroke-width="0.06" text-anchor="end" dy="2" transform="rotate(0.05 376.8 482.55)">600</text>
<line x1="377.7" y1="468.4" x2="380.9" y2="468.4" stroke="#000" stroke-width="0.9"/>
<text x="376.8" y="468.55" font-size="5.6" fill="#000" stroke="#000" stroke-width="0.06" text-anchor="end" dy="2" transform="rotate(0.05 376.8 468.55)">900</text>
<line x1="377.7" y1="454.4" x2="380.9" y2="454.4" stroke="#000" stroke-width="0.9"/>
<text x="376.8" y="454.55" font-size="5.6" fill="#000" stroke="#000" stroke-width="0.06" text-anchor="end" dy="2" transform="rotate(0.05 376.8 454.55)">1200</text>
<line x1="395.15" y1="466.44" x2="395.15" y2="469.71" stroke="#000" stroke-width="0.85"/>
<line x1="391.1" y1="466.44" x2="399.2" y2="466.44" stroke="#000" stroke-width="0.85"/>
<rect x="388.4" y="469.71" width="13.5" height="40.69" fill="#000"/>
<line x1="416.15" y1="472.69" x2="416.15" y2="475.49" stroke="#000" stroke-width="0.85"/>
<line x1="412.1" y1="472.69" x2="420.2" y2="472.69" stroke="#000" stroke-width="0.85"/>
<rect x="409.65" y="475.74" width="13" height="34.66" fill="#F43D41" stroke="#3a0508" stroke-width="0.5"/>
<text x="363.4" y="481.9" font-size="7" fill="#000" stroke="#000" stroke-width="0.13" text-anchor="middle" dy="2.51" transform="rotate(-89.95 363.4 481.9)">AUC</text>
<line x1="395.9" y1="463.2" x2="415.9" y2="463.2" stroke="#9a9a9a" stroke-width="0.9"/>
<text x="405.5" y="459.2" font-size="5.4" fill="#000" stroke="#000" stroke-width="0.13" text-anchor="middle" dominant-baseline="central">ns</text>
</g>
<g id="panelL">
<text x="0" y="0" font-size="14.8" font-weight="bold" fill="#000" transform="translate(478.35 425) rotate(0.05) scale(0.915 1)">L</text>
<text x="542.7" y="425.15" font-size="8.2" fill="#000" stroke="#000" stroke-width="0.08" text-anchor="middle" dy="2.94" transform="rotate(0.05 542.7 425.15)">PTT</text>
<line x1="497.9" y1="437.95" x2="497.9" y2="509.75" stroke="#000" stroke-width="0.9"/>
<line x1="497.45" y1="509.3" x2="588.1" y2="509.3" stroke="#000" stroke-width="0.9"/>
<line x1="494.9" y1="509.3" x2="497.9" y2="509.3" stroke="#000" stroke-width="0.9"/>
<text x="494" y="509.45" font-size="5.6" fill="#000" stroke="#000" stroke-width="0.06" text-anchor="end" dy="2" transform="rotate(0.05 494 509.45)">0</text>
<line x1="494.9" y1="491.57" x2="497.9" y2="491.57" stroke="#000" stroke-width="0.9"/>
<text x="494" y="491.72" font-size="5.6" fill="#000" stroke="#000" stroke-width="0.06" text-anchor="end" dy="2" transform="rotate(0.05 494 491.72)">5</text>
<line x1="494.9" y1="473.85" x2="497.9" y2="473.85" stroke="#000" stroke-width="0.9"/>
<text x="494" y="474" font-size="5.6" fill="#000" stroke="#000" stroke-width="0.06" text-anchor="end" dy="2" transform="rotate(0.05 494 474)">10</text>
<line x1="494.9" y1="456.12" x2="497.9" y2="456.12" stroke="#000" stroke-width="0.9"/>
<text x="494" y="456.27" font-size="5.6" fill="#000" stroke="#000" stroke-width="0.06" text-anchor="end" dy="2" transform="rotate(0.05 494 456.27)">15</text>
<line x1="494.9" y1="438.4" x2="497.9" y2="438.4" stroke="#000" stroke-width="0.9"/>
<text x="494" y="438.55" font-size="5.6" fill="#000" stroke="#000" stroke-width="0.06" text-anchor="end" dy="2" transform="rotate(0.05 494 438.55)">20</text>
<line x1="497.9" y1="509.3" x2="497.9" y2="512.1" stroke="#000" stroke-width="0.9"/>
<text x="497.9" y="516.7" font-size="5.6" fill="#000" stroke="#000" stroke-width="0.06" text-anchor="middle" dy="2" transform="rotate(0.05 497.9 516.7)">0</text>
<line x1="515.84" y1="509.3" x2="515.84" y2="512.1" stroke="#000" stroke-width="0.9"/>
<text x="515.84" y="516.7" font-size="5.6" fill="#000" stroke="#000" stroke-width="0.06" text-anchor="middle" dy="2" transform="rotate(0.05 515.84 516.7)">30</text>
<line x1="533.78" y1="509.3" x2="533.78" y2="512.1" stroke="#000" stroke-width="0.9"/>
<text x="533.78" y="516.7" font-size="5.6" fill="#000" stroke="#000" stroke-width="0.06" text-anchor="middle" dy="2" transform="rotate(0.05 533.78 516.7)">60</text>
<line x1="551.72" y1="509.3" x2="551.72" y2="512.1" stroke="#000" stroke-width="0.9"/>
<text x="551.72" y="516.7" font-size="5.6" fill="#000" stroke="#000" stroke-width="0.06" text-anchor="middle" dy="2" transform="rotate(0.05 551.72 516.7)">90</text>
<line x1="569.66" y1="509.3" x2="569.66" y2="512.1" stroke="#000" stroke-width="0.9"/>
<text x="569.66" y="516.7" font-size="5.6" fill="#000" stroke="#000" stroke-width="0.06" text-anchor="middle" dy="2" transform="rotate(0.05 569.66 516.7)">120</text>
<line x1="587.6" y1="509.3" x2="587.6" y2="512.1" stroke="#000" stroke-width="0.9"/>
<text x="587.6" y="516.7" font-size="5.6" fill="#000" stroke="#000" stroke-width="0.06" text-anchor="middle" dy="2" transform="rotate(0.05 587.6 516.7)">150</text>
<text x="543.15" y="526.4" font-size="5.5" fill="#000" stroke="#000" stroke-width="0.13" text-anchor="middle" dy="1.97" transform="rotate(0.05 543.15 526.4)">Time (min)</text>
<text x="480.7" y="473.65" font-size="5.7" fill="#000" stroke="#000" stroke-width="0.13" text-anchor="middle" dy="2.04" transform="rotate(-89.95 480.7 473.65)">Blood glucose (mM)</text>
<path d="M497.9,490.87 L506.87,474.91 L515.84,467.47 L533.78,470.31 L569.66,484.49" fill="none" stroke="#EE2A30" stroke-width="0.95" stroke-linejoin="round"/>
<circle cx="497.9" cy="490.87" r="2" fill="#F23A40"/>
<line x1="506.87" y1="472.79" x2="506.87" y2="477.04" stroke="#EE2A30" stroke-width="0.7"/>
<line x1="504.97" y1="472.79" x2="508.77" y2="472.79" stroke="#EE2A30" stroke-width="0.7"/>
<line x1="504.97" y1="477.04" x2="508.77" y2="477.04" stroke="#EE2A30" stroke-width="0.7"/>
<circle cx="506.87" cy="474.91" r="2" fill="#F23A40"/>
<line x1="515.84" y1="464.63" x2="515.84" y2="470.31" stroke="#EE2A30" stroke-width="0.7"/>
<line x1="513.94" y1="464.63" x2="517.74" y2="464.63" stroke="#EE2A30" stroke-width="0.7"/>
<line x1="513.94" y1="470.31" x2="517.74" y2="470.31" stroke="#EE2A30" stroke-width="0.7"/>
<circle cx="515.84" cy="467.47" r="2" fill="#F23A40"/>
<line x1="533.78" y1="468.18" x2="533.78" y2="472.43" stroke="#EE2A30" stroke-width="0.7"/>
<line x1="531.88" y1="468.18" x2="535.68" y2="468.18" stroke="#EE2A30" stroke-width="0.7"/>
<line x1="531.88" y1="472.43" x2="535.68" y2="472.43" stroke="#EE2A30" stroke-width="0.7"/>
<circle cx="533.78" cy="470.31" r="2" fill="#F23A40"/>
<line x1="569.66" y1="483.07" x2="569.66" y2="485.9" stroke="#EE2A30" stroke-width="0.7"/>
<line x1="567.76" y1="483.07" x2="571.56" y2="483.07" stroke="#EE2A30" stroke-width="0.7"/>
<line x1="567.76" y1="485.9" x2="571.56" y2="485.9" stroke="#EE2A30" stroke-width="0.7"/>
<circle cx="569.66" cy="484.49" r="2" fill="#F23A40"/>
<path d="M497.9,490.87 L506.87,470.31 L515.84,458.61 L533.78,464.99 L569.66,481.65" fill="none" stroke="#000" stroke-width="0.95" stroke-linejoin="round"/>
<circle cx="497.9" cy="490.87" r="2" fill="#000"/>
<line x1="506.87" y1="468.53" x2="506.87" y2="472.08" stroke="#000" stroke-width="0.7"/>
<line x1="504.97" y1="468.53" x2="508.77" y2="468.53" stroke="#000" stroke-width="0.7"/>
<line x1="504.97" y1="472.08" x2="508.77" y2="472.08" stroke="#000" stroke-width="0.7"/>
<circle cx="506.87" cy="470.31" r="2" fill="#000"/>
<line x1="515.84" y1="456.83" x2="515.84" y2="460.38" stroke="#000" stroke-width="0.7"/>
<line x1="513.94" y1="456.83" x2="517.74" y2="456.83" stroke="#000" stroke-width="0.7"/>
<line x1="513.94" y1="460.38" x2="517.74" y2="460.38" stroke="#000" stroke-width="0.7"/>
<circle cx="515.84" cy="458.61" r="2" fill="#000"/>
<line x1="533.78" y1="463.92" x2="533.78" y2="466.05" stroke="#000" stroke-width="0.7"/>
<line x1="531.88" y1="463.92" x2="535.68" y2="463.92" stroke="#000" stroke-width="0.7"/>
<line x1="531.88" y1="466.05" x2="535.68" y2="466.05" stroke="#000" stroke-width="0.7"/>
<circle cx="533.78" cy="464.99" r="2" fill="#000"/>
<line x1="569.66" y1="480.59" x2="569.66" y2="482.71" stroke="#000" stroke-width="0.7"/>
<line x1="567.76" y1="480.59" x2="571.56" y2="480.59" stroke="#000" stroke-width="0.7"/>
<line x1="567.76" y1="482.71" x2="571.56" y2="482.71" stroke="#000" stroke-width="0.7"/>
<circle cx="569.66" cy="481.65" r="2" fill="#000"/>
<text x="516" y="476.95" font-size="5.5" fill="#000" stroke="#000" stroke-width="0.1" text-anchor="middle" dy="1.97" transform="rotate(0.05 516 476.95)">*</text>
<circle cx="504.6" cy="493.2" r="2.1" fill="#000"/>
<text x="509.5" y="493" font-size="5.6" fill="#111" stroke="#111" stroke-width="0.1" dy="2" transform="rotate(0.05 509.5 493)">BCKDK<tspan font-size="4.31" baseline-shift="2.3">loxP/loxP</tspan></text>
<circle cx="504.6" cy="501.4" r="2.1" fill="#F5141B"/>
<text x="509.5" y="501.2" font-size="5.6" fill="#111" stroke="#111" stroke-width="0.1" dy="2" transform="rotate(0.05 509.5 501.2)">BCKDK<tspan font-size="4.31" baseline-shift="2.3">Alb</tspan> KO</text>
</g>
<g id="aucL">
<line x1="617.7" y1="454.15" x2="617.7" y2="510.95" stroke="#000" stroke-width="0.9"/>
<line x1="617.25" y1="510.5" x2="667.6" y2="510.5" stroke="#000" stroke-width="0.9"/>
<line x1="614.5" y1="510.5" x2="617.7" y2="510.5" stroke="#000" stroke-width="0.9"/>
<text x="613.6" y="510.65" font-size="5.6" fill="#000" stroke="#000" stroke-width="0.06" text-anchor="end" dy="2" transform="rotate(0.05 613.6 510.65)">0</text>
<line x1="614.5" y1="491.87" x2="617.7" y2="491.87" stroke="#000" stroke-width="0.9"/>
<text x="613.6" y="492.02" font-size="5.6" fill="#000" stroke="#000" stroke-width="0.06" text-anchor="end" dy="2" transform="rotate(0.05 613.6 492.02)">500</text>
<line x1="614.5" y1="473.23" x2="617.7" y2="473.23" stroke="#000" stroke-width="0.9"/>
<text x="613.6" y="473.38" font-size="5.6" fill="#000" stroke="#000" stroke-width="0.06" text-anchor="end" dy="2" transform="rotate(0.05 613.6 473.38)">1000</text>
<line x1="614.5" y1="454.6" x2="617.7" y2="454.6" stroke="#000" stroke-width="0.9"/>
<text x="613.6" y="454.75" font-size="5.6" fill="#000" stroke="#000" stroke-width="0.06" text-anchor="end" dy="2" transform="rotate(0.05 613.6 454.75)">1500</text>
<line x1="631.6" y1="460" x2="631.6" y2="461.31" stroke="#000" stroke-width="0.85"/>
<line x1="627.58" y1="460" x2="635.62" y2="460" stroke="#000" stroke-width="0.85"/>
<rect x="624.9" y="461.31" width="13.4" height="49.19" fill="#000"/>
<line x1="652.95" y1="465.41" x2="652.95" y2="467.64" stroke="#000" stroke-width="0.85"/>
<line x1="648.72" y1="465.41" x2="657.18" y2="465.41" stroke="#000" stroke-width="0.85"/>
<rect x="646.15" y="467.89" width="13.6" height="42.61" fill="#F43D41" stroke="#3a0508" stroke-width="0.5"/>
<text x="598.1" y="482.05" font-size="7" fill="#000" stroke="#000" stroke-width="0.13" text-anchor="middle" dy="2.51" transform="rotate(-89.95 598.1 482.05)">AUC</text>
<text x="652.8" y="462.25" font-size="5.5" fill="#000" stroke="#000" stroke-width="0.1" text-anchor="middle" dy="1.97" transform="rotate(0.05 652.8 462.25)">*</text>
</g>
<g id="panelM">
<text x="0" y="0" font-size="14.8" font-weight="bold" fill="#000" transform="translate(0.95 595.4) rotate(0.05) scale(0.915 1)">M</text>
<circle cx="37.8" cy="593.1" r="2.2" fill="#000"/>
<text x="43" y="592.9" font-size="5.6" fill="#111" stroke="#111" stroke-width="0.1" dy="2" transform="rotate(0.05 43 592.9)">BCKDK<tspan font-size="4.31" baseline-shift="2.3">loxP/loxP</tspan></text>
<circle cx="37.8" cy="601.6" r="2.2" fill="#F5141B"/>
<text x="43" y="601.4" font-size="5.6" fill="#111" stroke="#111" stroke-width="0.1" dy="2" transform="rotate(0.05 43 601.4)">BCKDK<tspan font-size="4.31" baseline-shift="2.3">Alb</tspan> KO</text>
<line x1="33.2" y1="605.02" x2="33.2" y2="661.27" stroke="#000" stroke-width="0.95"/>
<line x1="32.73" y1="660.8" x2="130.5" y2="660.8" stroke="#000" stroke-width="0.95"/>
<line x1="30.2" y1="660.8" x2="33.2" y2="660.8" stroke="#000" stroke-width="0.95"/>
<text x="29.3" y="660.95" font-size="5.8" fill="#000" stroke="#000" stroke-width="0.06" text-anchor="end" dy="2.08" transform="rotate(0.05 29.3 660.95)">0.0</text>
<line x1="30.2" y1="642.37" x2="33.2" y2="642.37" stroke="#000" stroke-width="0.95"/>
<text x="29.3" y="642.52" font-size="5.8" fill="#000" stroke="#000" stroke-width="0.06" text-anchor="end" dy="2.08" transform="rotate(0.05 29.3 642.52)">0.5</text>
<line x1="30.2" y1="623.93" x2="33.2" y2="623.93" stroke="#000" stroke-width="0.95"/>
<text x="29.3" y="624.08" font-size="5.8" fill="#000" stroke="#000" stroke-width="0.06" text-anchor="end" dy="2.08" transform="rotate(0.05 29.3 624.08)">1.0</text>
<line x1="30.2" y1="605.5" x2="33.2" y2="605.5" stroke="#000" stroke-width="0.95"/>
<text x="29.3" y="605.65" font-size="5.8" fill="#000" stroke="#000" stroke-width="0.06" text-anchor="end" dy="2.08" transform="rotate(0.05 29.3 605.65)">1.5</text>
<line x1="43.2" y1="619.25" x2="43.2" y2="623.93" stroke="#000" stroke-width="0.85"/>
<line x1="40.08" y1="619.25" x2="46.32" y2="619.25" stroke="#000" stroke-width="0.85"/>
<rect x="38" y="623.93" width="10.4" height="36.87" fill="#000"/>
<line x1="54.6" y1="631.53" x2="54.6" y2="633.63" stroke="#000" stroke-width="0.85"/>
<line x1="51.48" y1="631.53" x2="57.72" y2="631.53" stroke="#000" stroke-width="0.85"/>
<rect x="49.65" y="633.88" width="9.9" height="26.92" fill="#F43D41" stroke="#3a0508" stroke-width="0.5"/>
<line x1="76" y1="618.03" x2="76" y2="623.45" stroke="#000" stroke-width="0.85"/>
<line x1="73" y1="618.03" x2="79" y2="618.03" stroke="#000" stroke-width="0.85"/>
<rect x="71" y="623.45" width="10" height="37.35" fill="#000"/>
<line x1="87.45" y1="632.78" x2="87.45" y2="635.36" stroke="#000" stroke-width="0.85"/>
<line x1="84.48" y1="632.78" x2="90.42" y2="632.78" stroke="#000" stroke-width="0.85"/>
<rect x="82.75" y="635.61" width="9.4" height="25.19" fill="#F43D41" stroke="#3a0508" stroke-width="0.5"/>
<line x1="108.85" y1="621.72" x2="108.85" y2="624.3" stroke="#000" stroke-width="0.85"/>
<line x1="105.88" y1="621.72" x2="111.82" y2="621.72" stroke="#000" stroke-width="0.85"/>
<rect x="103.9" y="624.3" width="9.9" height="36.5" fill="#000"/>
<line x1="120.1" y1="629.09" x2="120.1" y2="631.12" stroke="#000" stroke-width="0.85"/>
<line x1="116.98" y1="629.09" x2="123.22" y2="629.09" stroke="#000" stroke-width="0.85"/>
<rect x="115.15" y="631.37" width="9.9" height="29.43" fill="#F43D41" stroke="#3a0508" stroke-width="0.5"/>
<text x="54.4" y="629.15" font-size="5.5" fill="#000" stroke="#000" stroke-width="0.1" text-anchor="middle" dy="1.97" transform="rotate(0.05 54.4 629.15)">*</text>
<text x="87.2" y="630.55" font-size="5.5" fill="#000" stroke="#000" stroke-width="0.1" text-anchor="middle" dy="1.97" transform="rotate(0.05 87.2 630.55)">*</text>
<text x="119.9" y="626.65" font-size="5.5" fill="#000" stroke="#000" stroke-width="0.1" text-anchor="middle" dy="1.97" transform="rotate(0.05 119.9 626.65)">*</text>
<text x="47.9" y="671" font-size="6.35" fill="#000" stroke="#000" stroke-width="0.13" text-anchor="middle" dy="2.27" transform="rotate(0.05 47.9 671)">PEPCK</text>
<text x="80.1" y="671" font-size="6.35" fill="#000" stroke="#000" stroke-width="0.13" text-anchor="middle" dy="2.27" transform="rotate(0.05 80.1 671)">G6Pc</text>
<text x="114" y="671" font-size="6.35" fill="#000" stroke="#000" stroke-width="0.13" text-anchor="middle" dy="2.27" transform="rotate(0.05 114 671)">FBP</text>
<text x="7.3" y="634.2" font-size="5.6" fill="#000" stroke="#000" stroke-width="0.13" text-anchor="middle" dy="2" transform="rotate(-89.95 7.3 634.2)">Relative mRNA expression</text>
<text x="14.1" y="634.2" font-size="5.6" fill="#000" stroke="#000" stroke-width="0.13" text-anchor="middle" dy="2" transform="rotate(-89.95 14.1 634.2)">(Fold of control)</text>
</g>
<g id="panelN">
<text x="0" y="0" font-size="14.8" font-weight="bold" fill="#000" transform="translate(157.55 594) rotate(0.05) scale(0.915 1)">N</text>
<text x="205.9" y="622.6" font-size="6.2" fill="#000" stroke="#000" stroke-width="0.1" text-anchor="middle" dominant-baseline="central">BCKDK<tspan font-size="3.97" baseline-shift="2.48">loxP/loxP</tspan></text>
<text x="253.5" y="622.6" font-size="6.2" fill="#000" stroke="#000" stroke-width="0.1" text-anchor="middle" dominant-baseline="central">BCKDK<tspan font-size="3.97" baseline-shift="2.48">Alb</tspan> KO</text>
<line x1="181.2" y1="628.6" x2="226.8" y2="628.6" stroke="#6a6a6a" stroke-width="0.9"/>
<line x1="231.2" y1="628.6" x2="276.9" y2="628.6" stroke="#6a6a6a" stroke-width="0.9"/>
<text x="178.3" y="638.9" font-size="6.2" fill="#000" stroke="#000" stroke-width="0.12" text-anchor="end" dominant-baseline="central">G6Pc</text>
<text x="178.3" y="654.2" font-size="6.2" fill="#000" stroke="#000" stroke-width="0.12" text-anchor="end" dominant-baseline="central">HSP90</text>
<text x="280.9" y="638.2" font-size="5.8" fill="#000" stroke="#000" stroke-width="0.1" dominant-baseline="central">37kDa</text>
<text x="280.9" y="654.2" font-size="5.8" fill="#000" stroke="#000" stroke-width="0.1" dominant-baseline="central">90kDa</text>
<rect x="181.5" y="632.4" width="95.5" height="13.2" fill="#e2e2e2"/>
<clipPath id="cN0"><rect x="181.5" y="632.4" width="95.5" height="13.2"/></clipPath>
<g clip-path="url(#cN0)">
<rect x="182.71" y="635.6" width="13.5" height="8" rx="2" fill="#000" opacity="0.22" filter="url(#b2)"/>
<ellipse cx="189.46" cy="638.6" rx="6.25" ry="2.1" fill="#000" opacity="0.7" filter="url(#b1)"/>
<ellipse cx="189.46" cy="638.6" rx="4.75" ry="0.83" fill="#000" opacity="0.49" filter="url(#b0)"/>
<rect x="198.62" y="636.2" width="13.5" height="8" rx="2" fill="#000" opacity="0.25" filter="url(#b2)"/>
<ellipse cx="205.38" cy="639.2" rx="6.75" ry="2.8" fill="#000" opacity="0.95" filter="url(#b1)"/>
<ellipse cx="205.38" cy="639.2" rx="5.25" ry="1.21" fill="#000" opacity="0.66" filter="url(#b0)"/>
<rect x="214.54" y="636.3" width="13.5" height="8" rx="2" fill="#000" opacity="0.21" filter="url(#b2)"/>
<ellipse cx="221.29" cy="639.3" rx="5.75" ry="2" fill="#000" opacity="0.6" filter="url(#b1)"/>
<ellipse cx="221.29" cy="639.3" rx="4.25" ry="0.77" fill="#000" opacity="0.42" filter="url(#b0)"/>
<rect x="230.46" y="637.4" width="13.5" height="8" rx="2" fill="#000" opacity="0.17" filter="url(#b2)"/>
<ellipse cx="237.21" cy="640.4" rx="5.5" ry="1.7" fill="#000" opacity="0.25" filter="url(#b1)"/>
<ellipse cx="237.21" cy="640.4" rx="4" ry="0.61" fill="#000" opacity="0.17" filter="url(#b0)"/>
<rect x="246.38" y="635.1" width="13.5" height="8" rx="2" fill="#000" opacity="0.22" filter="url(#b2)"/>
<ellipse cx="253.12" cy="638.1" rx="5.75" ry="1.9" fill="#000" opacity="0.65" filter="url(#b1)"/>
<ellipse cx="253.12" cy="638.1" rx="4.25" ry="0.72" fill="#000" opacity="0.45" filter="url(#b0)"/>
<rect x="262.29" y="635.8" width="13.5" height="8" rx="2" fill="#000" opacity="0.18" filter="url(#b2)"/>
<ellipse cx="269.04" cy="638.8" rx="5" ry="1.8" fill="#000" opacity="0.35" filter="url(#b1)"/>
<ellipse cx="269.04" cy="638.8" rx="3.5" ry="0.66" fill="#000" opacity="0.24" filter="url(#b0)"/>
</g>
<rect x="181.5" y="632.4" width="95.5" height="13.2" fill="none" stroke="#444" stroke-width="0.8"/>
<rect x="181.5" y="648.6" width="95.5" height="11.9" fill="#ececec"/>
<clipPath id="cN1"><rect x="181.5" y="648.6" width="95.5" height="11.9"/></clipPath>
<g clip-path="url(#cN1)">
<ellipse cx="189.46" cy="653.65" rx="7.25" ry="1.5" fill="#000" opacity="1" filter="url(#b1)"/>
<ellipse cx="189.46" cy="653.65" rx="5.75" ry="0.85" fill="#000" opacity="1" filter="url(#b0)"/>
<ellipse cx="205.38" cy="653.85" rx="5.75" ry="1.5" fill="#000" opacity="1" filter="url(#b1)"/>
<ellipse cx="205.38" cy="653.85" rx="4.25" ry="0.85" fill="#000" opacity="1" filter="url(#b0)"/>
<ellipse cx="221.29" cy="655.45" rx="7" ry="1.5" fill="#000" opacity="1" filter="url(#b1)"/>
<ellipse cx="221.29" cy="655.45" rx="5.5" ry="0.85" fill="#000" opacity="1" filter="url(#b0)"/>
<ellipse cx="237.21" cy="655.45" rx="7.5" ry="1.5" fill="#000" opacity="1" filter="url(#b1)"/>
<ellipse cx="237.21" cy="655.45" rx="6" ry="0.85" fill="#000" opacity="1" filter="url(#b0)"/>
<ellipse cx="253.12" cy="655.25" rx="7.25" ry="1.5" fill="#000" opacity="1" filter="url(#b1)"/>
<ellipse cx="253.12" cy="655.25" rx="5.75" ry="0.85" fill="#000" opacity="1" filter="url(#b0)"/>
<ellipse cx="269.04" cy="655.45" rx="6.5" ry="1.5" fill="#000" opacity="1" filter="url(#b1)"/>
<ellipse cx="269.04" cy="655.45" rx="5" ry="0.85" fill="#000" opacity="1" filter="url(#b0)"/>
</g>
<rect x="181.5" y="648.6" width="95.5" height="11.9" fill="none" stroke="#444" stroke-width="0.8"/>
<line x1="334.7" y1="604.23" x2="334.7" y2="660.68" stroke="#000" stroke-width="0.95"/>
<line x1="334.22" y1="660.2" x2="379.9" y2="660.2" stroke="#000" stroke-width="0.95"/>
<line x1="331.5" y1="660.2" x2="334.7" y2="660.2" stroke="#000" stroke-width="0.95"/>
<text x="330.6" y="660.35" font-size="5.6" fill="#000" stroke="#000" stroke-width="0.06" text-anchor="end" dy="2" transform="rotate(0.05 330.6 660.35)">0.0</text>
<line x1="331.5" y1="641.7" x2="334.7" y2="641.7" stroke="#000" stroke-width="0.95"/>
<text x="330.6" y="641.85" font-size="5.6" fill="#000" stroke="#000" stroke-width="0.06" text-anchor="end" dy="2" transform="rotate(0.05 330.6 641.85)">0.4</text>
<line x1="331.5" y1="623.2" x2="334.7" y2="623.2" stroke="#000" stroke-width="0.95"/>
<text x="330.6" y="623.35" font-size="5.6" fill="#000" stroke="#000" stroke-width="0.06" text-anchor="end" dy="2" transform="rotate(0.05 330.6 623.35)">0.8</text>
<line x1="331.5" y1="604.7" x2="334.7" y2="604.7" stroke="#000" stroke-width="0.95"/>
<text x="330.6" y="604.85" font-size="5.6" fill="#000" stroke="#000" stroke-width="0.06" text-anchor="end" dy="2" transform="rotate(0.05 330.6 604.85)">1.2</text>
<line x1="349.5" y1="607.61" x2="349.5" y2="614.18" stroke="#000" stroke-width="0.85"/>
<line x1="345.18" y1="607.61" x2="353.82" y2="607.61" stroke="#000" stroke-width="0.85"/>
<rect x="342.3" y="614.18" width="14.4" height="46.02" fill="#000"/>
<line x1="365.4" y1="632.45" x2="365.4" y2="636.61" stroke="#000" stroke-width="0.85"/>
<line x1="361.14" y1="632.45" x2="369.66" y2="632.45" stroke="#000" stroke-width="0.85"/>
<rect x="358.55" y="636.86" width="13.7" height="23.34" fill="#F43D41" stroke="#3a0508" stroke-width="0.5"/>
<text x="365.5" y="630.36" font-size="5.5" fill="#000" stroke="#000" stroke-width="0.1" text-anchor="middle" dy="1.97" transform="rotate(0.05 365.5 630.36)">*</text>
<circle cx="337.1" cy="671.6" r="2.1" fill="#000"/>
<text x="341.8" y="671.4" font-size="5.2" fill="#111" stroke="#111" stroke-width="0.1" dy="1.86" transform="rotate(0.05 341.8 671.4)">BCKDK<tspan font-size="3.9" baseline-shift="2.13">loxP/loxP</tspan></text>
<circle cx="337.1" cy="680.1" r="2.1" fill="#F5141B"/>
<text x="341.8" y="679.9" font-size="5.2" fill="#111" stroke="#111" stroke-width="0.1" dy="1.86" transform="rotate(0.05 341.8 679.9)">BCKDK<tspan font-size="3.9" baseline-shift="2.13">Alb</tspan> KO</text>
<text x="310.8" y="633" font-size="5.55" fill="#000" stroke="#000" stroke-width="0.13" text-anchor="middle" dy="1.99" transform="rotate(-89.95 310.8 633)">Relative intensity</text>
<text x="317.8" y="633" font-size="5.55" fill="#000" stroke="#000" stroke-width="0.13" text-anchor="middle" dy="1.99" transform="rotate(-89.95 317.8 633)">(Fold of control)</text>
</g>
<g id="panelO">
<text x="0" y="0" font-size="14.8" font-weight="bold" fill="#000" transform="translate(415.75 594.9) rotate(0.05) scale(0.915 1)">O</text>
<text x="475" y="622.3" font-size="6.2" fill="#000" stroke="#000" stroke-width="0.1" text-anchor="middle" dominant-baseline="central">BCKDK<tspan font-size="3.97" baseline-shift="2.48">loxP/loxP</tspan></text>
<text x="539.1" y="622.3" font-size="6.2" fill="#000" stroke="#000" stroke-width="0.1" text-anchor="middle" dominant-baseline="central">BCKDK<tspan font-size="3.97" baseline-shift="2.48">Alb</tspan> KO</text>
<line x1="442.3" y1="628.4" x2="503.5" y2="628.4" stroke="#6a6a6a" stroke-width="0.9"/>
<line x1="509.9" y1="628.4" x2="567.7" y2="628.4" stroke="#6a6a6a" stroke-width="0.9"/>
<text x="437.4" y="639" font-size="6.2" fill="#000" stroke="#000" stroke-width="0.12" text-anchor="end" dominant-baseline="central">PEPCK</text>
<text x="437.4" y="654.3" font-size="6.2" fill="#000" stroke="#000" stroke-width="0.12" text-anchor="end" dominant-baseline="central">HSP90</text>
<text x="574" y="637.9" font-size="5.8" fill="#000" stroke="#000" stroke-width="0.1" dominant-baseline="central">69kDa</text>
<text x="574" y="653.7" font-size="5.8" fill="#000" stroke="#000" stroke-width="0.1" dominant-baseline="central">90kDa</text>
<rect x="440.6" y="632.3" width="129.8" height="12.7" fill="#dedede"/>
<clipPath id="cO0"><rect x="440.6" y="632.3" width="129.8" height="12.7"/></clipPath>
<g clip-path="url(#cO0)">
<rect x="442.21" y="638.85" width="13" height="6" rx="2" fill="#000" opacity="0.25" filter="url(#b2)"/>
<ellipse cx="448.71" cy="639.25" rx="7.1" ry="1.55" fill="#000" opacity="0.9" filter="url(#b1)"/>
<rect x="443.21" y="638.5" width="11" height="1.5" rx="0.75" fill="#000" opacity="0.63" filter="url(#b0)"/>
<rect x="458.44" y="639.25" width="13" height="6" rx="2" fill="#000" opacity="0.25" filter="url(#b2)"/>
<ellipse cx="464.94" cy="639.65" rx="7.1" ry="1.55" fill="#000" opacity="0.9" filter="url(#b1)"/>
<rect x="459.44" y="638.9" width="11" height="1.5" rx="0.75" fill="#000" opacity="0.63" filter="url(#b0)"/>
<rect x="474.66" y="638.95" width="13" height="6" rx="2" fill="#000" opacity="0.24" filter="url(#b2)"/>
<ellipse cx="481.16" cy="639.35" rx="7.1" ry="1.55" fill="#000" opacity="0.85" filter="url(#b1)"/>
<rect x="475.66" y="638.6" width="11" height="1.5" rx="0.75" fill="#000" opacity="0.59" filter="url(#b0)"/>
<rect x="490.89" y="638.75" width="13" height="6" rx="2" fill="#000" opacity="0.22" filter="url(#b2)"/>
<ellipse cx="497.39" cy="639.15" rx="7.1" ry="1.55" fill="#000" opacity="0.6" filter="url(#b1)"/>
<rect x="491.89" y="638.4" width="11" height="1.5" rx="0.75" fill="#000" opacity="0.42" filter="url(#b0)"/>
<rect x="507.11" y="637.85" width="13" height="6" rx="2" fill="#000" opacity="0.26" filter="url(#b2)"/>
<ellipse cx="513.61" cy="638.25" rx="7.1" ry="1.55" fill="#000" opacity="0.95" filter="url(#b1)"/>
<rect x="508.11" y="637.5" width="11" height="1.5" rx="0.75" fill="#000" opacity="0.66" filter="url(#b0)"/>
<rect x="523.34" y="638.25" width="13" height="6" rx="2" fill="#000" opacity="0.21" filter="url(#b2)"/>
<ellipse cx="529.84" cy="638.65" rx="7.1" ry="1.55" fill="#000" opacity="0.5" filter="url(#b1)"/>
<rect x="524.34" y="637.9" width="11" height="1.5" rx="0.75" fill="#000" opacity="0.35" filter="url(#b0)"/>
<rect x="539.56" y="638.05" width="13" height="6" rx="2" fill="#000" opacity="0.2" filter="url(#b2)"/>
<ellipse cx="546.06" cy="638.45" rx="7.1" ry="1.55" fill="#000" opacity="0.35" filter="url(#b1)"/>
<rect x="540.56" y="637.7" width="11" height="1.5" rx="0.75" fill="#000" opacity="0.24" filter="url(#b0)"/>
<rect x="555.79" y="637.65" width="13" height="6" rx="2" fill="#000" opacity="0.21" filter="url(#b2)"/>
<ellipse cx="562.29" cy="638.05" rx="7.1" ry="1.55" fill="#000" opacity="0.5" filter="url(#b1)"/>
<rect x="556.79" y="637.3" width="11" height="1.5" rx="0.75" fill="#000" opacity="0.35" filter="url(#b0)"/>
</g>
<rect x="440.6" y="632.3" width="129.8" height="12.7" fill="none" stroke="#444" stroke-width="0.8"/>
<rect x="440.6" y="648.1" width="129.8" height="12.2" fill="#ececec"/>
<clipPath id="cO1"><rect x="440.6" y="648.1" width="129.8" height="12.2"/></clipPath>
<g clip-path="url(#cO1)">
<ellipse cx="448.71" cy="655" rx="8" ry="1.6" fill="#000" opacity="1" filter="url(#b1)"/>
<ellipse cx="448.71" cy="655" rx="6.5" ry="0.95" fill="#000" opacity="1" filter="url(#b0)"/>
<ellipse cx="464.94" cy="654.6" rx="8.5" ry="1.6" fill="#000" opacity="1" filter="url(#b1)"/>
<ellipse cx="464.94" cy="654.6" rx="7" ry="0.95" fill="#000" opacity="1" filter="url(#b0)"/>
<ellipse cx="481.16" cy="655.2" rx="6" ry="1.6" fill="#000" opacity="1" filter="url(#b1)"/>
<ellipse cx="481.16" cy="655.2" rx="4.5" ry="0.95" fill="#000" opacity="1" filter="url(#b0)"/>
<ellipse cx="497.39" cy="655" rx="7.5" ry="1.6" fill="#000" opacity="1" filter="url(#b1)"/>
<ellipse cx="497.39" cy="655" rx="6" ry="0.95" fill="#000" opacity="1" filter="url(#b0)"/>
<ellipse cx="513.61" cy="655" rx="8" ry="1.6" fill="#000" opacity="1" filter="url(#b1)"/>
<ellipse cx="513.61" cy="655" rx="6.5" ry="0.95" fill="#000" opacity="1" filter="url(#b0)"/>
<ellipse cx="529.84" cy="655.1" rx="7.75" ry="1.6" fill="#000" opacity="1" filter="url(#b1)"/>
<ellipse cx="529.84" cy="655.1" rx="6.25" ry="0.95" fill="#000" opacity="1" filter="url(#b0)"/>
<ellipse cx="546.06" cy="655.1" rx="8" ry="1.6" fill="#000" opacity="1" filter="url(#b1)"/>
<ellipse cx="546.06" cy="655.1" rx="6.5" ry="0.95" fill="#000" opacity="1" filter="url(#b0)"/>
<ellipse cx="562.29" cy="655.1" rx="7.75" ry="1.6" fill="#000" opacity="1" filter="url(#b1)"/>
<ellipse cx="562.29" cy="655.1" rx="6.25" ry="0.95" fill="#000" opacity="1" filter="url(#b0)"/>
</g>
<rect x="440.6" y="648.1" width="129.8" height="12.2" fill="none" stroke="#444" stroke-width="0.8"/>
<line x1="627.5" y1="603.23" x2="627.5" y2="659.83" stroke="#000" stroke-width="0.95"/>
<line x1="627.02" y1="659.35" x2="672.7" y2="659.35" stroke="#000" stroke-width="0.95"/>
<line x1="624.3" y1="659.35" x2="627.5" y2="659.35" stroke="#000" stroke-width="0.95"/>
<text x="623.4" y="659.5" font-size="5.6" fill="#000" stroke="#000" stroke-width="0.06" text-anchor="end" dy="2" transform="rotate(0.05 623.4 659.5)">0.0</text>
<line x1="624.3" y1="640.8" x2="627.5" y2="640.8" stroke="#000" stroke-width="0.95"/>
<text x="623.4" y="640.95" font-size="5.6" fill="#000" stroke="#000" stroke-width="0.06" text-anchor="end" dy="2" transform="rotate(0.05 623.4 640.95)">0.4</text>
<line x1="624.3" y1="622.25" x2="627.5" y2="622.25" stroke="#000" stroke-width="0.95"/>
<text x="623.4" y="622.4" font-size="5.6" fill="#000" stroke="#000" stroke-width="0.06" text-anchor="end" dy="2" transform="rotate(0.05 623.4 622.4)">0.8</text>
<line x1="624.3" y1="603.7" x2="627.5" y2="603.7" stroke="#000" stroke-width="0.95"/>
<text x="623.4" y="603.85" font-size="5.6" fill="#000" stroke="#000" stroke-width="0.06" text-anchor="end" dy="2" transform="rotate(0.05 623.4 603.85)">1.2</text>
<line x1="642.2" y1="610.38" x2="642.2" y2="610.89" stroke="#000" stroke-width="0.85"/>
<line x1="637.94" y1="610.38" x2="646.46" y2="610.38" stroke="#000" stroke-width="0.85"/>
<rect x="635.1" y="610.89" width="14.2" height="48.46" fill="#000"/>
<line x1="658.1" y1="614.69" x2="658.1" y2="621.09" stroke="#000" stroke-width="0.85"/>
<line x1="653.9" y1="614.69" x2="662.3" y2="614.69" stroke="#000" stroke-width="0.85"/>
<rect x="651.35" y="621.34" width="13.5" height="38.01" fill="#F43D41" stroke="#3a0508" stroke-width="0.5"/>
<text x="657.8" y="612.36" font-size="5.5" fill="#000" stroke="#000" stroke-width="0.1" text-anchor="middle" dy="1.97" transform="rotate(0.05 657.8 612.36)">*</text>
<circle cx="629.3" cy="670.8" r="2.1" fill="#000"/>
<text x="633.8" y="670.6" font-size="5.3" fill="#111" stroke="#111" stroke-width="0.1" dy="1.9" transform="rotate(0.05 633.8 670.6)">BCKDK<tspan font-size="3.97" baseline-shift="2.17">loxP/loxP</tspan></text>
<circle cx="629.3" cy="679" r="2.1" fill="#F5141B"/>
<text x="633.8" y="678.8" font-size="5.3" fill="#111" stroke="#111" stroke-width="0.1" dy="1.9" transform="rotate(0.05 633.8 678.8)">BCKDK<tspan font-size="3.97" baseline-shift="2.17">Alb</tspan> KO</text>
<text x="603.7" y="628.8" font-size="5.65" fill="#000" stroke="#000" stroke-width="0.13" text-anchor="middle" dy="2.02" transform="rotate(-89.95 603.7 628.8)">Relative intensity</text>
<text x="610.4" y="628.8" font-size="5.65" fill="#000" stroke="#000" stroke-width="0.13" text-anchor="middle" dy="2.02" transform="rotate(-89.95 610.4 628.8)">(Fold of control)</text>
</g>
</svg>
</body></html>
